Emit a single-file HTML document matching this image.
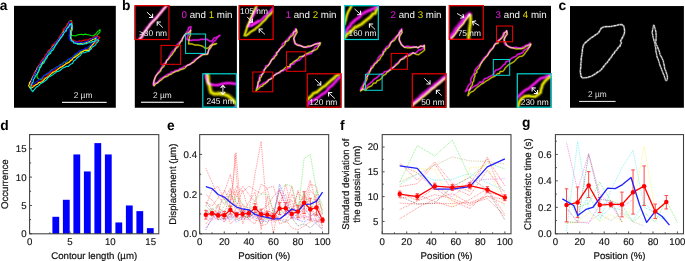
<!DOCTYPE html>
<html lang="en"><head><meta charset="utf-8"><title>Figure</title>
<style>
html,body{margin:0;padding:0;background:#fff}
svg{display:block;font-family:"Liberation Sans",sans-serif}
svg text{text-rendering:geometricPrecision}
.scr{mix-blend-mode:screen}
.iso{isolation:isolate}
</style></head><body>
<svg width="685" height="261" viewBox="0 0 685 261">
<text x="-0.3" y="9.9" font-weight="bold" font-size="13.8" fill="#000">a</text>
<text x="122" y="9.9" font-weight="bold" font-size="13.8" fill="#000">b</text>
<text x="558.6" y="9.9" font-weight="bold" font-size="13.8" fill="#000">c</text>
<text x="0.2" y="129.9" font-weight="bold" font-size="13.8" fill="#000">d</text>
<text x="167.1" y="129.9" font-weight="bold" font-size="13.8" fill="#000">e</text>
<text x="339.9" y="129.9" font-weight="bold" font-size="13.8" fill="#000">f</text>
<text x="522.1" y="127.4" font-weight="bold" font-size="13.8" fill="#000">g</text>
<g id="panel-a">
<rect x="14" y="5.85" width="101.8" height="101.9" fill="#000"/>
<path d="M71.42 20.64 L71.95 22.64 L72.24 24.42 L71.23 26.22 L71.84 28.65 L71.35 30.11 L70.47 32.25 L71.04 35.37 L73.01 35.52 L75.28 35.92 L77.77 34.86 L79.8 34.54 L81.62 34.23 L83 34.87 L85.21 34.12 L87.63 34.72 L88.59 34.76 L91.04 35.58 L93.2 36.04 L95.69 33.97 L97.89 31.4 L98.91 30.57 L100.25 29.77 L99.8 32.3 L98.25 33.78 L97.34 34.81 L96.82 36.23 L95.32 37.48 L95.35 38.56 L95.28 40.02 L94.15 42.49 L92.52 44.09 L91.62 45.13 L90.01 45.85 L89.03 47.91 L87.9 48.86 L86.78 49.69 L84.34 49.75 L82.62 51.03 L80.31 51.85 L79.4 52.96 L77.04 54.05 L75.49 54.54 L74.41 56.22 L72.71 57.29 L71.48 57.75 L69.82 58.68 L67.73 59.95 L66.49 62.1 L63.81 62.35 L62.49 64.03 L60.01 64.84 L58.29 66.53 L56.06 67.42 L53.56 69.22 L51.63 69.99 L50.54 70.83 L48.58 73.05 L46.63 74.29 L44.61 75.18 L43.15 76.84 L42.29 77.6 L42 79.15 L39.48 79.55 L37.99 78.53 L36.98 76.79 L37.15 74.9 L37.38 73.99 L38.71 71.63 L39 69.34 L39.59 67.27 L41.28 65.87 L41.86 64.12 L43.27 62.36 L44.16 60.76 L45 58.97 L46.05 57.02 L47.67 55.49 L48.33 54.25 L49.82 52.38 L50.31 50.85 L52.05 48.97 L53.76 47.12 L55.25 45.3 L56.25 43.34 L57.74 41.73 L58.45 39.94 L60.07 37.79 L61.28 36.06 L61.92 33.63 L62.67 31.94 L64.64 29.58 L65.59 27.82 L66.83 25.27 L68.08 23.68 L68.97 22.02 L69.92 20.87Z" fill="none" stroke="#00e000" stroke-width="1.1" stroke-linejoin="round"/>
<path d="M71.69 21.32 L72.17 23.78 L72.17 26.45 L72.51 29.18 L71.84 30.94 L71.12 33.14 L70.27 35.12 L70.7 37.69 L71.7 39.32 L73.7 40.38 L75.03 41.12 L77.28 41.66 L79.6 40.74 L81.5 41.18 L83.59 40.34 L85.74 39.92 L88.12 40.07 L89.64 38.88 L91.75 38.16 L93.47 37.44 L95.01 36.36 L97.02 35.73 L97.92 36.57 L99.9 37.28 L97.95 39.59 L97.01 41.22 L95.43 42.55 L94.19 43.92 L92.22 45.41 L91.06 46.96 L89.56 48.68 L88.3 49.74 L87.07 49.71 L84.41 50.27 L83.3 51.56 L80.97 52.18 L79.34 53.53 L77.64 55 L76.9 56.4 L75.15 57.55 L73 58.04 L72.52 59.69 L70.54 61.02 L68.87 62.37 L66.66 63.22 L65.36 64.04 L63.84 65.74 L62.34 65.67 L60.15 66.93 L58.99 68.22 L56.4 69.2 L55 70.78 L52.36 71.6 L50.33 72.89 L49.57 73.92 L47.55 75.32 L46.37 76.88 L44.35 78.01 L43.1 79.49 L41.9 80.63 L39.75 81.64 L38.13 82.72 L36.55 84.47 L35.33 85.36 L32.83 85.64 L31.33 86.12 L30.63 85.05 L29.84 82.5 L31.21 81.12 L31.85 79.05 L32.63 77.26 L33.39 75.31 L34.05 72.89 L34.73 71.9 L36.48 69.94 L36.97 67.66 L38.7 65.62 L39.98 63.48 L40.82 62.14 L41.44 60.87 L43.13 58.51 L44.32 57.72 L45.19 55.13 L46.59 53.53 L47.77 52.66 L47.97 50.76 L49.65 49.75 L51.31 48.16 L52.33 45.29 L54.33 43.6 L55.58 42.01 L56.7 41.09 L57.96 39.27 L59.25 37.04 L60.33 35.28 L61.8 33.73 L62.62 31.5 L63.44 28.99 L65.26 27.43 L66.78 25.8 L67.31 23.8 L68.85 22.54 L69 21.43Z" fill="none" stroke="#ff0000" stroke-width="1.1" stroke-linejoin="round"/>
<path d="M71.66 24.45 L70.81 25.58 L71.64 28.24 L71.02 29.81 L70.51 32.11 L70.28 33.66 L69.93 35.89 L70.72 38.49 L71.45 40.04 L72.44 40.97 L73.54 41.93 L75.96 42.77 L77.88 43.89 L80.03 43.61 L81.74 43.12 L83.83 42.74 L86.01 43.1 L87.92 41.38 L89.89 41.1 L91.48 40.31 L93.26 39.29 L94.35 38.98 L96.46 37.66 L95.75 40.82 L94.21 42.13 L92.99 44.02 L91.9 45.23 L90.65 46.58 L90 48.56 L88.67 50.72 L87.27 50.34 L85.22 50.22 L83.8 50.87 L82.11 51.77 L80.26 53.11 L78.46 54.81 L76.3 55.92 L74.75 57.29 L73.08 58.04 L71.95 59.9 L70.72 60.18 L69.02 62.33 L67.21 63.29 L65.58 64.09 L64.02 65.24 L62.13 66.78 L60.11 67.62 L58.95 68.54 L56.31 70.58 L54.52 71.82 L52.23 72.86 L50.47 74.57 L48.48 76.45 L46.53 77.83 L45.02 78.56 L44.31 79.66 L42.68 81.34 L41.89 81.84 L40.99 82.2 L38.54 82.64 L37.87 83.94 L36.11 84.44 L34.53 85.45 L33.77 86.64 L32.15 87.56 L30.36 88.41 L28.57 85.73 L29.36 84.22 L29.4 82.75 L31.17 80.53 L31.88 78.89 L32.81 76.84 L34.26 75.16 L35.01 73.42 L35.52 71.66 L36.84 69.16 L37.93 67.26 L39.3 65.74 L41.01 64.08 L42.43 62.63 L42.73 60.61 L43.75 59.29 L45.26 57.9 L46.48 55.76 L47.32 54.43 L47.97 52.54 L49.44 51.21 L50.82 49.94 L51.7 47.98 L53.33 46.12 L54.92 44.66 L56.01 43.14 L57.11 41.81 L59.06 40.03 L59.83 38.01 L61.28 35.75 L62.42 34.33 L63.48 31.99 L65.4 30.37 L66.42 29.02 L67.71 26.79 L69.28 25.27 L69.92 23.59Z" fill="none" stroke="#f0f000" stroke-width="1.1" stroke-linejoin="round"/>
<path d="M69.89 21.84 L70.31 24.06 L70.86 25.69 L69.75 28.67 L69.5 30.28 L69.73 32.81 L69.07 35.12 L69.35 36.92 L69.83 39.76 L71.09 40.79 L72.6 41.27 L74.78 42.17 L76.41 41.98 L79.26 42.27 L81.4 42.53 L83.68 42.21 L85.64 41.74 L87.73 41.21 L90.21 39.71 L91.22 38.82 L93.8 38.04 L95.13 37.33 L96.68 36.83 L97.59 37.27 L96.84 38.9 L95.95 40.23 L94.38 41.79 L92.46 42.45 L91.24 44.76 L89.87 45.88 L88.64 46.62 L87.72 48.08 L85.46 47.96 L84.31 49.27 L81.6 50.05 L79.97 50.38 L78.24 52.26 L77.2 52.79 L75.34 53.95 L73.84 55.39 L72.57 57.2 L70.76 58.39 L69.13 58.64 L67.58 60.03 L65.34 61.85 L63.62 62.89 L60.92 64.89 L59.29 66.08 L57.97 66.6 L55.43 67.99 L53.51 69.32 L51.52 70.55 L49.98 71.65 L48.07 72.93 L46.46 73.59 L45.8 74.88 L43.47 75.97 L41.43 78.14 L39.64 79.24 L38.86 79.75 L37.46 81.21 L35.78 82.34 L34.09 83.96 L31.36 84.26 L31.51 83.14 L31.62 80.96 L32.49 79.14 L33.1 77.16 L33.95 75.46 L34.83 73.5 L36.24 71.41 L37.09 70.13 L37.87 67.62 L39.61 65.65 L40.24 63.86 L41.75 62.03 L42.37 60.76 L43.88 59.37 L45.06 57.44 L45.71 56.26 L47.42 54.4 L47.85 52.67 L49.26 51.35 L50.63 50.6 L51.56 48.09 L53.73 46.5 L55.03 44.5 L55.66 42.74 L57.53 41.12 L58.28 39.66 L59.66 37.74 L61.47 35.58 L61.81 34.36 L63.93 32.4 L64.73 30.37 L66.47 27.65 L67.54 26.52 L68.71 24.45 L69.15 22.96 L69.91 21.37Z" fill="none" stroke="#1010ff" stroke-width="1.1" stroke-linejoin="round"/>
<path d="M71.23 23.75 L72.26 25.21 L72.4 27.45 L72.15 30.04 L71.19 31.53 L71.54 34.18 L71.06 36 L71.15 38.77 L71.33 41.05 L73.2 41.33 L73.53 43.04 L76.44 43.53 L77.72 44.22 L79.78 44.07 L82.44 44.4 L84.23 43.83 L86.22 43.76 L88.29 42.72 L90.84 42.66 L92.39 41.49 L94.49 41.36 L95.42 40.13 L97.82 39.81 L98.84 40.52 L97.78 41.97 L96.3 43.09 L95.63 44.85 L94.01 46.09 L92.03 47.24 L91.3 48.91 L89.57 50.25 L89 51.57 L86.77 51.79 L85.01 52.58 L83.52 52.74 L81.99 52.93 L80.14 55.8 L79.08 56.29 L76.69 58.27 L75.4 59.98 L74.27 60.44 L73.56 61.43 L72.41 63.45 L70.08 64.56 L68.37 66.45 L66.46 66.31 L64.58 67.52 L62.99 67.84 L61.61 69.12 L60.06 70.53 L57.96 71.57 L56.87 71.5 L55.4 72.88 L53.86 73.85 L52.34 75.12 L50.71 75.96 L48.63 77.03 L47.28 78.68 L46.46 79.9 L44.9 80.92 L43.06 82.24 L42.17 82.78 L40.02 83.91 L39.26 85.35 L37.36 86.62 L36.34 86.97 L35.16 88.73 L34.17 89.77 L32.81 91.55 L31.02 89.57 L30.62 87.99 L30.92 86.29 L31.31 85.2 L32.41 82.71 L33.24 81.78 L33.39 79.45 L34.25 78.62 L35.36 76.4 L36.98 74.04 L37.62 72.48 L39.3 70.02 L39.59 68.68 L40.63 67.14 L41.42 65.73 L42.16 63.87 L44.07 62.91 L44.41 61.36 L45.54 59.77 L47.11 57.58 L47.75 55.51 L49.45 54.07 L50.45 53.53 L51.27 51.27 L53.07 50.07 L54.4 47.61 L55.38 45.65 L56.51 44.17 L57.93 41.99 L58.8 40.77 L60.3 38.7 L61.63 37.17 L63.5 34.32 L64.1 32.63 L66.19 31.08 L66.84 28.51 L68.37 27.44 L69.83 25.24 L71.38 23.39Z" fill="none" stroke="#00e8e8" stroke-width="1.1" stroke-linejoin="round"/>
<rect x="62" y="101.8" width="44.7" height="1.1" fill="#fff"/>
<text x="83" y="98.4" font-size="8.3" fill="#e8e8e8" text-anchor="middle">2 µm</text>
</g>
<g id="panel-b1" class="iso">
<clipPath id="cb0"><rect x="134.8" y="5.85" width="102.1" height="101.9"/></clipPath>
<rect x="134.8" y="5.85" width="102.1" height="101.9" fill="#000"/>
<g clip-path="url(#cb0)">
<defs><path id="gp1" d="M190.66 30.34 L190.52 32.56 L190.42 35.49 L189.73 36.49 L188.93 40.24 L188.52 43.98 L191.74 43.82 L194.84 45.05 L197.32 44.98 L200.96 45.64 L203.58 46.84 L205.05 48.4 L208.52 48 L209.84 45.99 L210.81 45.5 L214.16 44 L216.6 43.6 L214.72 44.47 L212.5 44.95 L210.53 48.12 L208.68 49.59 L208.27 51.91 L207.54 54.33 L205.39 54.4 L202.68 54.82 L200.75 56.21 L199.3 56.87 L196.86 59.04 L194.4 61.41 L194.02 62.15 L191.57 62.97 L189.71 64.63 L187.82 65.03 L186.48 66.25 L184.77 68.38 L182.97 69.02 L180.42 69.8 L178.01 71.07 L176.4 71.33 L173.92 72.37 L172.77 73.04 L171.3 74.21 L168.66 75.04 L167.97 76.08 L164.5 77.29 L161.53 79.79 L159 81.53 L157.78 82.91 L156.13 83.55 L154.06 86.05 L153.82 82.25 L154.1 80 L155.68 76.34 L157.56 73.88 L160.79 70.93 L161.04 69.35 L162.15 67.87 L163.69 66.8 L164.85 64.33 L166.02 63.21 L166.53 60.36 L168.48 59.28 L169.76 57.38 L171.14 55.62 L172.21 54.74 L173.05 52.79 L174.88 51.03 L175.37 48.97 L177.95 46.94 L179.77 43.83 L180.81 41.51 L181.99 40.88 L182.69 38.22 L183.72 36.19 L185.11 34.24 L188.65 32.78 L190.5 30.82Z"/></defs><g fill="none" stroke="#f0ea00" stroke-linejoin="round" stroke-linecap="round"><use href="#gp1" class="scr" stroke-width="2.1" stroke-opacity="0.2"/><use href="#gp1" class="scr" stroke-width="1.47" stroke-opacity="0.31"/><use href="#gp1" class="scr" stroke-width="0.98" stroke-opacity="0.45"/><use href="#gp1" class="scr" stroke-width="0.49" stroke-opacity="0.63"/></g>
<defs><path id="gp2" d="M190.91 26.88 L190.4 30.61 L188.94 32.2 L189.21 34.56 L188.11 35.25 L187.27 38.24 L187 39.53 L190.68 40.52 L193.06 40.03 L197.61 40.05 L198.64 39.99 L200.96 39.29 L203.37 39.41 L206.8 39.19 L210.04 41.29 L212.28 40.89 L214.1 38.03 L216.09 37.51 L219.94 35.38 L217.61 37.27 L215.62 40.1 L212.46 42.82 L212.15 44.02 L210.48 45.81 L209.68 48.3 L208.1 52.04 L207.54 53.68 L205.34 54.02 L201.37 54.32 L200.26 55.98 L198.5 57.74 L196.41 58.62 L194.93 59.75 L193.03 61.52 L191.49 63.58 L189.55 64.39 L187.08 65.4 L185.43 66.23 L183.75 66.81 L182.37 67.99 L179.74 68.83 L178.44 70 L175.42 70.44 L173.58 72.01 L171.37 72.04 L170.45 73.54 L167.95 74.27 L166.24 75.26 L163.63 77.08 L160.55 78.99 L158.3 81.28 L157.68 82.62 L155.52 82.85 L153.13 85.1 L153.26 83.02 L154.91 79.19 L155.6 76.2 L157.86 72.9 L159.16 71.07 L160.36 69.7 L161.44 68.01 L162.74 65.15 L164.12 63.57 L165.88 62.45 L166.54 60.93 L167.82 59.25 L169.32 56.32 L169.79 55.72 L170.6 54.32 L171.91 52.17 L174.18 49.86 L175.65 48.02 L176.79 45.47 L177.82 43.93 L180.57 41.41 L181.84 39.65 L182.23 38.45 L184.44 35.59 L185.56 34.13 L186.51 32.39 L187.94 30.75 L188.56 27.73Z"/></defs><g fill="none" stroke="#ff10f0" stroke-linejoin="round" stroke-linecap="round"><use href="#gp2" class="scr" stroke-width="2.4" stroke-opacity="0.22"/><use href="#gp2" class="scr" stroke-width="1.68" stroke-opacity="0.34"/><use href="#gp2" class="scr" stroke-width="1.12" stroke-opacity="0.5"/><use href="#gp2" class="scr" stroke-width="0.56" stroke-opacity="0.7"/></g>
</g>
<text x="232.5" y="17.8" font-size="9.75" text-anchor="end" fill="#f8f8f8"><tspan fill="#e818e0">0</tspan> and <tspan fill="#e0d800">1</tspan> min</text>
</g>
<g id="panel-b2" class="iso">
<clipPath id="cb1"><rect x="239.1" y="5.85" width="101.8" height="101.9"/></clipPath>
<rect x="239.1" y="5.85" width="101.8" height="101.9" fill="#000"/>
<g clip-path="url(#cb1)">
<defs><path id="gp3" d="M296.33 29.14 L297.24 32.2 L295.21 35.68 L293.63 38.77 L294.99 42.09 L295.39 43.56 L297.19 45.36 L299.89 45.26 L303.52 47.25 L306.23 46.92 L307.94 46.02 L310.94 46.09 L312.94 45.26 L315 44.3 L318.11 43.86 L320.53 42.76 L320 44.89 L318.84 45.92 L317.15 48.99 L314.61 50.26 L311.99 51.24 L310.05 52.03 L307.91 53.08 L305.71 53.85 L303.38 56.16 L299.49 56.75 L298.42 58.71 L296.12 60.2 L293.18 61.96 L292.65 62.84 L290.05 64.36 L289.79 66.42 L286.92 66.8 L285.29 67.66 L283.26 69.55 L279.86 71.79 L277.8 73.26 L276.21 74.17 L274.76 75.03 L273.47 76 L273.01 77.96 L270.41 79.23 L268.67 79.74 L268.03 81.36 L264.4 84.38 L263.28 84.62 L262.82 86.06 L260.47 86.82 L258.51 88.72 L257.23 89.77 L255.91 90.58 L257.42 87.57 L257.73 85.27 L258.03 82.02 L260.01 80.83 L259.82 77.88 L261.36 77.01 L261.74 74.98 L263.97 72.41 L264.48 69.66 L265.11 68.94 L266.71 67.06 L268.04 65.74 L269.94 63.09 L270.71 61.88 L271.9 59.39 L273.99 58.58 L275.27 56.12 L276.93 54.41 L276.77 52.85 L278.62 50.89 L279.41 49.7 L281.21 47.7 L282.09 47.24 L284.22 45.29 L285.04 43.78 L285.46 41.55 L286.48 41.52 L288.7 40.24 L289.68 37.65 L292.37 35.6 L293.13 34.4 L293.76 32.12 L295.76 31.15Z"/></defs><g fill="none" stroke="#f0ea00" stroke-linejoin="round" stroke-linecap="round"><use href="#gp3" class="scr" stroke-width="2.1" stroke-opacity="0.2"/><use href="#gp3" class="scr" stroke-width="1.47" stroke-opacity="0.31"/><use href="#gp3" class="scr" stroke-width="0.98" stroke-opacity="0.45"/><use href="#gp3" class="scr" stroke-width="0.49" stroke-opacity="0.63"/></g>
<defs><path id="gp4" d="M295.3 28.83 L296.2 31.72 L294.17 35.49 L293.96 38.27 L294.21 40.75 L294.65 43.6 L297.33 44.31 L299.44 45.72 L301.8 46.15 L306.15 47.39 L308.41 47.15 L309.6 46.67 L312.8 45.02 L315.78 43.65 L317.08 43.33 L319.34 42.69 L319.33 44.23 L318.06 45.73 L315.33 47.06 L314.05 49.05 L312.62 51.18 L311.32 53.51 L308.4 54.09 L306.01 55 L302.98 56.37 L301.67 57.58 L299.43 60.23 L296.26 61.05 L294.72 62.47 L293.92 63.86 L290.85 64.81 L290.27 67.54 L288.26 67.87 L286.66 69.33 L284.53 69.89 L283.4 70.68 L281.19 70.81 L279.79 72.76 L278.13 73.16 L276.41 73.32 L274.35 75.35 L273.72 75.66 L271.98 77.26 L270.7 78.84 L268.36 80.13 L267.59 80.79 L265.64 82.17 L262.83 83.58 L260.59 85.25 L256.45 88.11 L258.04 84.73 L258.73 81.69 L258.48 80.3 L259.34 78.39 L259.75 75.61 L262.2 74.53 L263.17 71.72 L263.63 70.44 L265.24 68.09 L265.79 65.82 L268.31 65.19 L269.77 63.05 L270.49 61.17 L272.47 59.01 L273.35 57.21 L274.9 55.22 L275.98 55.03 L276.19 52.84 L278.32 51.58 L279.43 49.04 L280.36 48.44 L282.31 45.6 L282.29 43.94 L283.44 43.07 L284.86 42.3 L286.83 39.84 L287.86 38.79 L289.79 36.53 L291.3 34.28 L292.62 33.46 L293.88 30.87 L295.12 30.61Z"/></defs><g fill="none" stroke="#ff10f0" stroke-linejoin="round" stroke-linecap="round"><use href="#gp4" class="scr" stroke-width="2.4" stroke-opacity="0.22"/><use href="#gp4" class="scr" stroke-width="1.68" stroke-opacity="0.34"/><use href="#gp4" class="scr" stroke-width="1.12" stroke-opacity="0.5"/><use href="#gp4" class="scr" stroke-width="0.56" stroke-opacity="0.7"/></g>
</g>
<text x="336.5" y="17.8" font-size="9.75" text-anchor="end" fill="#f8f8f8"><tspan fill="#e818e0">1</tspan> and <tspan fill="#e0d800">2</tspan> min</text>
</g>
<g id="panel-b3" class="iso">
<clipPath id="cb2"><rect x="344.4" y="5.85" width="101.5" height="101.9"/></clipPath>
<rect x="344.4" y="5.85" width="101.5" height="101.9" fill="#000"/>
<g clip-path="url(#cb2)">
<defs><path id="gp5" d="M401.66 30.09 L402.15 32.51 L399.77 36.16 L399.06 40.02 L400.39 42.6 L401.39 44.89 L402.57 45.61 L404.39 47.36 L407.44 47.83 L410.66 47.83 L413.51 47.41 L416.71 46.83 L417.63 48.09 L420.39 46.11 L423.47 46.71 L424.42 45.23 L424.55 48.4 L424.6 50.13 L422.57 51.76 L419.89 53.58 L418.59 54.65 L416.65 54.47 L412.94 52.71 L411.15 54.69 L409.05 55.72 L405.69 56.76 L403.79 58.82 L400.56 59.87 L399.37 61.8 L398.47 63.29 L395.75 65.34 L394.81 66.44 L392.91 67.63 L391.59 69.48 L389.68 70.33 L388.32 71.74 L386.79 72.37 L385.93 74.16 L384.05 75.06 L382.84 75.97 L381.75 78.18 L380.26 79.37 L378.24 80.55 L376.98 80.67 L375.96 83 L373.25 83.28 L371.79 85.75 L368.39 87.26 L366.33 89 L365.99 90.4 L363.04 89.44 L360.53 91.08 L363 88.06 L363.69 85.19 L365.07 83.34 L365.74 81.82 L367.19 78.64 L366.79 77.71 L367.77 75.77 L369.12 73.34 L370.41 70.62 L370.78 68.68 L372.67 67.84 L373.15 66.63 L374.98 63.81 L376.4 63.07 L377.94 60.79 L379.83 59.54 L380.79 57.13 L381.73 56.25 L383.23 54.12 L383.77 52.15 L385.55 50.79 L385.68 49.37 L388.21 47.9 L389.4 46.47 L390.1 44.88 L391.12 42.45 L392.28 41.42 L394.35 40.63 L395.76 38.43 L397.14 36.1 L399 34.29 L399.32 32.71 L400.44 31.63Z"/></defs><g fill="none" stroke="#f0ea00" stroke-linejoin="round" stroke-linecap="round"><use href="#gp5" class="scr" stroke-width="2.1" stroke-opacity="0.2"/><use href="#gp5" class="scr" stroke-width="1.47" stroke-opacity="0.31"/><use href="#gp5" class="scr" stroke-width="0.98" stroke-opacity="0.45"/><use href="#gp5" class="scr" stroke-width="0.49" stroke-opacity="0.63"/></g>
<defs><path id="gp6" d="M401.79 28.81 L400.59 33.3 L399.43 35.28 L399.03 38.82 L400.08 41.55 L401.39 43.88 L402.65 45.85 L404.58 46.89 L407.81 46.17 L411.27 47.18 L412.87 46.59 L416.12 47.17 L418.35 47.38 L420.46 46.32 L422.44 45.71 L424.04 45.54 L423.66 47.26 L423.65 48.35 L420.15 50.06 L419.05 49.78 L416.62 52.3 L414.65 53.3 L412.52 52.94 L410.07 53.73 L408.36 54.68 L405.11 56.59 L402.6 58.21 L400.6 59.67 L399.23 61.32 L396.79 63.53 L395.64 64.25 L394.16 66.56 L393.41 67.26 L391 67.96 L390.27 69.27 L388.27 70.72 L386.25 71.47 L384.35 71.72 L383.21 73.74 L381.73 73.74 L380.16 74.52 L378.1 76.69 L377.25 77.27 L375.52 78.45 L373.44 79.83 L372.54 81.32 L369.3 83.84 L367.22 85.66 L365.89 87.48 L364.07 88.78 L361.33 89.13 L360.4 89.91 L361.41 87.64 L363.4 84.3 L363.81 83.35 L365.28 80.08 L365.57 78.28 L367.05 76.17 L367.16 74 L368.45 72.11 L369.27 70.9 L371.14 69.05 L371.11 66.87 L373.62 64.85 L374.05 63.68 L375.72 62.23 L377.58 60.05 L378.22 57.95 L379.45 56.1 L381.25 54.64 L382.78 53.72 L382.74 51.85 L384.76 49.51 L385.78 47.84 L387.4 46.21 L388.4 46.08 L389.97 43.55 L390.75 42.01 L391.66 41.75 L393.58 39.11 L394.92 37.96 L396.61 36 L398.69 34.03 L398.89 32.87 L400.12 30.38Z"/></defs><g fill="none" stroke="#ff10f0" stroke-linejoin="round" stroke-linecap="round"><use href="#gp6" class="scr" stroke-width="2.4" stroke-opacity="0.22"/><use href="#gp6" class="scr" stroke-width="1.68" stroke-opacity="0.34"/><use href="#gp6" class="scr" stroke-width="1.12" stroke-opacity="0.5"/><use href="#gp6" class="scr" stroke-width="0.56" stroke-opacity="0.7"/></g>
</g>
<text x="441.5" y="17.8" font-size="9.75" text-anchor="end" fill="#f8f8f8"><tspan fill="#e818e0">2</tspan> and <tspan fill="#e0d800">3</tspan> min</text>
</g>
<g id="panel-b4" class="iso">
<clipPath id="cb3"><rect x="449.5" y="5.85" width="101.5" height="101.9"/></clipPath>
<rect x="449.5" y="5.85" width="101.5" height="101.9" fill="#000"/>
<g clip-path="url(#cb3)">
<defs><path id="gp7" d="M506.54 30.93 L507.38 34.37 L505.23 36.75 L504.07 39.94 L505.65 42.7 L506.55 45.02 L507.99 46.4 L510.61 47.71 L512.57 47.81 L515.97 48.91 L519.41 48.81 L521.89 48.72 L524.57 47.69 L525.84 46.47 L528.68 45.33 L531.1 44.04 L530.3 46.14 L529.12 47.28 L527.38 50.3 L525.66 52.25 L523.94 54.88 L521.87 56.29 L519.78 56.43 L517.41 58.09 L515.45 60.15 L513.78 61.91 L510.67 63.65 L508.43 64.87 L506.76 66.47 L504.98 68.29 L504.7 69.3 L502.75 71.52 L500.09 71.43 L499.58 73.58 L497.68 73.51 L495.69 75.53 L494.77 76.36 L492.12 77.37 L490.76 78.16 L488.79 79.54 L487.88 80.24 L485.69 81.14 L484.65 82.24 L482.72 83.58 L481.11 84.13 L479.26 85.91 L476.74 87.56 L474.38 90.18 L473.51 91.08 L471.13 91.98 L470.03 92.92 L467.96 95.75 L468.84 91.89 L469.75 89.52 L470.99 86.57 L472.3 85.07 L472.64 82.27 L473.65 81.17 L473.96 78.37 L474.97 76 L474.78 74.21 L476.93 72.51 L476.78 70.38 L478.84 68.2 L479.62 66.81 L480.34 64.81 L481.53 63.01 L482.49 61.29 L483.78 60.04 L485.75 57.31 L487.21 55.99 L487.97 54.88 L488.95 52.83 L490.3 50.96 L492.15 49.27 L493.29 47.83 L493.71 46.48 L494.55 44.69 L496.29 43.76 L498.26 43.23 L498.22 41.2 L500.34 39.51 L502.63 37.44 L503.97 34.69 L504.16 33.27 L506.45 31.62Z"/></defs><g fill="none" stroke="#f0ea00" stroke-linejoin="round" stroke-linecap="round"><use href="#gp7" class="scr" stroke-width="2.1" stroke-opacity="0.2"/><use href="#gp7" class="scr" stroke-width="1.47" stroke-opacity="0.31"/><use href="#gp7" class="scr" stroke-width="0.98" stroke-opacity="0.45"/><use href="#gp7" class="scr" stroke-width="0.49" stroke-opacity="0.63"/></g>
<defs><path id="gp8" d="M506.94 30.82 L507.09 32.73 L505.24 36.54 L504.05 39.3 L504.24 42.67 L505.48 44.88 L506.99 45.38 L509.82 46.93 L512.72 48 L515.69 47.19 L518.77 47.98 L521.04 48.03 L524.01 46.54 L525.99 45.25 L528.21 44.69 L530.12 43.03 L529.86 46.08 L528.94 47.27 L526.51 48.87 L523.52 50.79 L522.97 52.59 L520.22 53.65 L517.41 54.61 L516.01 56.33 L513.25 57.35 L510.78 58.86 L509.12 60.82 L505.94 61.76 L505.13 64.06 L503.59 64.76 L501.57 67.18 L500.04 68.62 L497.75 69.76 L495.93 70.02 L494.23 72.18 L493.58 73.99 L492.13 75.22 L490.1 76.54 L488.8 76.77 L487.52 78 L484.75 78.68 L483.55 79.99 L482.66 82.19 L479.98 81.99 L478.87 83.1 L477.31 85.07 L474.43 86.16 L473.1 86.97 L470.66 88.69 L469.77 89.74 L467.53 89.87 L465.49 91.34 L467.31 87.76 L468.49 85.31 L470.26 83.54 L470.97 81.94 L470.76 79.65 L471.55 77.54 L473.25 75.02 L474.38 72.72 L474.79 71.41 L475.3 69.44 L476.96 67.77 L478.63 65.61 L479.52 64.93 L480.56 63.2 L482.01 61.17 L483.31 59.07 L484.88 56.92 L486.5 55.92 L487.68 54.36 L488.68 52.69 L489.5 51.6 L490.38 49.91 L492.75 47.75 L493.82 46.41 L494.81 44.44 L495.63 43.12 L496.8 42.69 L498.06 40.48 L500.18 39.02 L502.27 36.43 L502.93 34.42 L503.68 32.73 L504.95 32.18Z"/></defs><g fill="none" stroke="#ff10f0" stroke-linejoin="round" stroke-linecap="round"><use href="#gp8" class="scr" stroke-width="2.4" stroke-opacity="0.22"/><use href="#gp8" class="scr" stroke-width="1.68" stroke-opacity="0.34"/><use href="#gp8" class="scr" stroke-width="1.12" stroke-opacity="0.5"/><use href="#gp8" class="scr" stroke-width="0.56" stroke-opacity="0.7"/></g>
</g>
<text x="546.6" y="17.8" font-size="9.75" text-anchor="end" fill="#f8f8f8"><tspan fill="#e818e0">3</tspan> and <tspan fill="#e0d800">4</tspan> min</text>
</g>
<rect x="185.6" y="34" width="20" height="19.4" fill="none" stroke="#00d8d8" stroke-width="1.0"/>
<rect x="161" y="45.4" width="19.6" height="18.9" fill="none" stroke="#f00000" stroke-width="1.0"/>
<rect x="286.5" y="51.8" width="19.2" height="19.5" fill="none" stroke="#f00000" stroke-width="1.0"/>
<rect x="252.8" y="72" width="20" height="19.8" fill="none" stroke="#f00000" stroke-width="1.0"/>
<rect x="391.2" y="53.4" width="16.3" height="15.9" fill="none" stroke="#f00000" stroke-width="1.0"/>
<rect x="365.5" y="74.2" width="16.6" height="16.1" fill="none" stroke="#00d8d8" stroke-width="1.0"/>
<rect x="496.5" y="26" width="16.1" height="15.8" fill="none" stroke="#f00000" stroke-width="1.0"/>
<rect x="493.3" y="59.5" width="16.4" height="15.8" fill="none" stroke="#00d8d8" stroke-width="1.0"/>
<rect x="141" y="101.7" width="42.7" height="1.1" fill="#fff"/>
<text x="162.3" y="98.4" font-size="8.3" fill="#e8e8e8" text-anchor="middle">2 µm</text>
<g id="inset1a" class="iso">
<clipPath id="ci1a"><rect x="134.6" y="5.1" width="34.9" height="35"/></clipPath>
<rect x="134.6" y="5.1" width="34.9" height="35" fill="#000"/>
<g clip-path="url(#ci1a)">
<defs><path id="gp9" d="M137.42 41.67 L139.43 39.53 L141 37.77 L142.58 35.64 L143.8 32.96 L145.67 30.87 L147.26 28.35 L148.74 26.41 L150.26 24.22 L152.6 21.92 L154.16 20.32 L156.55 18.01 L158.12 15.79 L159.96 13.46 L161.9 11.5 L163.53 9.27 L165.26 7.28 L166.84 5.16 L168.5 3.5"/></defs><g fill="none" stroke="#f0ea00" stroke-linejoin="round" stroke-linecap="round"><use href="#gp9" class="scr" stroke-width="3.61" stroke-opacity="0.17"/><use href="#gp9" class="scr" stroke-width="2.53" stroke-opacity="0.26"/><use href="#gp9" class="scr" stroke-width="1.68" stroke-opacity="0.38"/><use href="#gp9" class="scr" stroke-width="0.84" stroke-opacity="0.52"/></g>
<defs><path id="gp10" d="M138.83 41.22 L139.73 38.89 L141.47 37.32 L142.78 34.87 L144.15 32.79 L145.54 30.33 L147.07 28.21 L148.81 26.28 L150.52 23.82 L152.22 21.88 L153.97 19.96 L156.12 17.88 L158.01 15.93 L160.01 13.53 L161.6 11.16 L163.38 9.12 L165.21 7.45 L166.69 4.94 L168 3"/></defs><g fill="none" stroke="#ff10f0" stroke-linejoin="round" stroke-linecap="round"><use href="#gp10" class="scr" stroke-width="4.94" stroke-opacity="0.2"/><use href="#gp10" class="scr" stroke-width="3.46" stroke-opacity="0.32"/><use href="#gp10" class="scr" stroke-width="2.3" stroke-opacity="0.47"/><use href="#gp10" class="scr" stroke-width="1.15" stroke-opacity="0.65"/></g>
<path d="M146.9 12.1 L152.7 17.4" stroke="#f4f4f4" stroke-width="0.95" fill="none"/><path d="M149 17.57 L152.7 17.4 L152.53 13.7" stroke="#fff" stroke-width="1.05" fill="none" stroke-linejoin="miter" stroke-linecap="butt"/>
<path d="M162.8 27.6 L157.2 22" stroke="#f4f4f4" stroke-width="0.95" fill="none"/><path d="M160.9 22 L157.2 22 L157.2 25.7" stroke="#fff" stroke-width="1.05" fill="none" stroke-linejoin="miter" stroke-linecap="butt"/>
<text x="153" y="36.4" font-size="8.4" text-anchor="middle" fill="#f4f4f4">&gt;30 nm</text>
</g>
<rect x="135.2" y="5.7" width="33.7" height="33.8" fill="none" stroke="#f00000" stroke-width="1.2"/>
</g>
<g id="inset1b" class="iso">
<clipPath id="ci1b"><rect x="202.2" y="73.2" width="34.8" height="34.6"/></clipPath>
<rect x="202.2" y="73.2" width="34.8" height="34.6" fill="#000"/>
<g clip-path="url(#ci1b)">
<defs><path id="gp11" d="M207.32 72.03 L207.66 75.07 L208.09 77.7 L208.06 81.24 L208.63 83.81 L209.65 86.48 L210.04 88.98 L211.1 92.26 L214.09 93.86 L216.52 93.87 L219.12 93.49 L221.68 94.26 L223.86 94.27 L228.26 95.98 L231.65 98.77 L234.65 101.79 L236.18 103.46 L238 105"/></defs><g fill="none" stroke="#f0ea00" stroke-linejoin="round" stroke-linecap="round"><use href="#gp11" class="scr" stroke-width="6.27" stroke-opacity="0.2"/><use href="#gp11" class="scr" stroke-width="4.39" stroke-opacity="0.32"/><use href="#gp11" class="scr" stroke-width="2.92" stroke-opacity="0.47"/><use href="#gp11" class="scr" stroke-width="1.46" stroke-opacity="0.65"/></g>
<defs><path id="gp12" d="M205.79 71.68 L206.17 74.72 L206.15 77.92 L207.38 80.49 L207.81 82.28 L210.53 84.42 L213.74 84.88 L217.77 85.14 L222.26 83.85 L226.24 83.15 L229.85 83.1 L234.19 83.68 L238 84.2"/></defs><g fill="none" stroke="#ff10f0" stroke-linejoin="round" stroke-linecap="round"><use href="#gp12" class="scr" stroke-width="4.56" stroke-opacity="0.2"/><use href="#gp12" class="scr" stroke-width="3.19" stroke-opacity="0.32"/><use href="#gp12" class="scr" stroke-width="2.13" stroke-opacity="0.47"/><use href="#gp12" class="scr" stroke-width="1.06" stroke-opacity="0.65"/></g>
<defs><path id="gp13" d="M233.1 108.69 L235.74 106.85 L238 104.5"/></defs><g fill="none" stroke="#ff10f0" stroke-linejoin="round" stroke-linecap="round"><use href="#gp13" class="scr" stroke-width="3.8" stroke-opacity="0.2"/><use href="#gp13" class="scr" stroke-width="2.66" stroke-opacity="0.32"/><use href="#gp13" class="scr" stroke-width="1.77" stroke-opacity="0.47"/><use href="#gp13" class="scr" stroke-width="0.89" stroke-opacity="0.65"/></g>
<path d="M222.9 85.6 L222.9 94.2" stroke="#f4f4f4" stroke-width="0.95" fill="none"/><path d="M220.57 91.87 L222.9 94.2 L225.23 91.87 M225.23 87.93 L222.9 85.6 L220.57 87.93" stroke="#fff" stroke-width="1.05" fill="none" stroke-linejoin="miter" stroke-linecap="butt"/>
<text x="220.4" y="103.8" font-size="8.4" text-anchor="middle" fill="#f4f4f4">245 nm</text>
</g>
<rect x="202.8" y="73.8" width="33.6" height="33.4" fill="none" stroke="#00d8d8" stroke-width="1.2"/>
</g>
<g id="inset2a" class="iso">
<clipPath id="ci2a"><rect x="238.7" y="5.1" width="35" height="35"/></clipPath>
<rect x="238.7" y="5.1" width="35" height="35" fill="#000"/>
<g clip-path="url(#ci2a)">
<defs><path id="gp14" d="M257.18 5.19 L255.79 7.36 L254.3 10.1 L253.28 12.91 L251.92 15.66 L250.66 18.43 L249.74 20.95 L248.52 23.86 L247.22 26.53 L246.68 28.86 L245.78 31.61 L244.61 35.3 L246.16 35.38 L248.58 33.77 L250.16 32.22 L252.68 30.67 L255.07 29.25 L256.52 27.69 L258.52 26.26 L260.55 24.31 L262.09 22.72 L265.18 19.89 L267.72 16.52 L271.06 13.48 L272.8 11.55 L274.5 10"/></defs><g fill="none" stroke="#f0ea00" stroke-linejoin="round" stroke-linecap="round"><use href="#gp14" class="scr" stroke-width="3.8" stroke-opacity="0.2"/><use href="#gp14" class="scr" stroke-width="2.66" stroke-opacity="0.32"/><use href="#gp14" class="scr" stroke-width="1.77" stroke-opacity="0.47"/><use href="#gp14" class="scr" stroke-width="0.89" stroke-opacity="0.65"/></g>
<defs><path id="gp15" d="M256.69 8.79 L255.69 10.99 L254.42 13.42 L253.03 15.75 L251.92 17.96 L250.94 19.95 L250.15 22.6 L248.37 26.23 L251.58 25.87 L255.35 23.54 L258.79 21.53 L261.72 19.67 L264.29 16.77 L266.04 15.59 L267.61 13.85 L270.58 10.92 L272.28 8.99 L274 7.5"/></defs><g fill="none" stroke="#ff10f0" stroke-linejoin="round" stroke-linecap="round"><use href="#gp15" class="scr" stroke-width="4.18" stroke-opacity="0.2"/><use href="#gp15" class="scr" stroke-width="2.92" stroke-opacity="0.32"/><use href="#gp15" class="scr" stroke-width="1.95" stroke-opacity="0.47"/><use href="#gp15" class="scr" stroke-width="0.97" stroke-opacity="0.65"/></g>
<defs><path id="gp16" d="M251.43 24.65 L254.8 22.99 L258 21"/></defs><g fill="none" stroke="#ff10f0" stroke-linejoin="round" stroke-linecap="round"><use href="#gp16" class="scr" stroke-width="4.18" stroke-opacity="0.18"/><use href="#gp16" class="scr" stroke-width="2.92" stroke-opacity="0.27"/><use href="#gp16" class="scr" stroke-width="1.95" stroke-opacity="0.4"/><use href="#gp16" class="scr" stroke-width="0.97" stroke-opacity="0.56"/></g>
<path d="M247.1 16.9 L252.4 22.2" stroke="#f4f4f4" stroke-width="0.95" fill="none"/><path d="M248.7 22.2 L252.4 22.2 L252.4 18.5" stroke="#fff" stroke-width="1.05" fill="none" stroke-linejoin="miter" stroke-linecap="butt"/>
<path d="M264.9 34.4 L259.1 29.1" stroke="#f4f4f4" stroke-width="0.95" fill="none"/><path d="M262.8 28.93 L259.1 29.1 L259.27 32.8" stroke="#fff" stroke-width="1.05" fill="none" stroke-linejoin="miter" stroke-linecap="butt"/>
<text x="254" y="13.8" font-size="8.4" text-anchor="middle" fill="#f4f4f4">105 nm</text>
</g>
<rect x="239.3" y="5.7" width="33.8" height="33.8" fill="none" stroke="#f00000" stroke-width="1.2"/>
</g>
<g id="inset2b" class="iso">
<clipPath id="ci2b"><rect x="306.7" y="73.2" width="34.8" height="34.6"/></clipPath>
<rect x="306.7" y="73.2" width="34.8" height="34.6" fill="#000"/>
<g clip-path="url(#ci2b)">
<defs><path id="gp17" d="M340.28 72.87 L337.3 75.36 L335.47 76.4 L334.4 77.77 L331.01 80.47 L327.96 83.2 L324.85 86.06 L322.27 87.59 L319.92 89.51 L316.93 92.12 L313.5 93.29 L311.31 95.99 L309.35 97.6 L306.5 100.5"/></defs><g fill="none" stroke="#f0ea00" stroke-linejoin="round" stroke-linecap="round"><use href="#gp17" class="scr" stroke-width="4.94" stroke-opacity="0.2"/><use href="#gp17" class="scr" stroke-width="3.46" stroke-opacity="0.32"/><use href="#gp17" class="scr" stroke-width="2.3" stroke-opacity="0.47"/><use href="#gp17" class="scr" stroke-width="1.15" stroke-opacity="0.65"/></g>
<defs><path id="gp18" d="M342.47 74.4 L339.71 77.49 L337.01 79.8 L335.12 82.16 L332.04 85.49 L328.63 88.1 L327.16 90.56 L325.28 92.43 L321.39 94.69 L318.41 97.34 L315.07 99.22 L311.51 101.1 L309.48 102.28 L308.14 104.18 L305.5 106"/></defs><g fill="none" stroke="#ff10f0" stroke-linejoin="round" stroke-linecap="round"><use href="#gp18" class="scr" stroke-width="4.94" stroke-opacity="0.2"/><use href="#gp18" class="scr" stroke-width="3.46" stroke-opacity="0.32"/><use href="#gp18" class="scr" stroke-width="2.3" stroke-opacity="0.47"/><use href="#gp18" class="scr" stroke-width="1.15" stroke-opacity="0.65"/></g>
<path d="M315 79.1 L320.8 84.9" stroke="#f4f4f4" stroke-width="0.95" fill="none"/><path d="M317.1 84.9 L320.8 84.9 L320.8 81.2" stroke="#fff" stroke-width="1.05" fill="none" stroke-linejoin="miter" stroke-linecap="butt"/>
<path d="M334.8 98.5 L328.5 92.7" stroke="#f4f4f4" stroke-width="0.95" fill="none"/><path d="M332.2 92.55 L328.5 92.7 L328.65 96.4" stroke="#fff" stroke-width="1.05" fill="none" stroke-linejoin="miter" stroke-linecap="butt"/>
<text x="323.3" y="105.3" font-size="8.4" text-anchor="middle" fill="#f4f4f4">120 nm</text>
</g>
<rect x="307.3" y="73.8" width="33.6" height="33.4" fill="none" stroke="#f00000" stroke-width="1.2"/>
</g>
<g id="inset3a" class="iso">
<clipPath id="ci3a"><rect x="344" y="5.1" width="34.9" height="35"/></clipPath>
<rect x="344" y="5.1" width="34.9" height="35" fill="#000"/>
<g clip-path="url(#ci3a)">
<defs><path id="gp19" d="M344.66 23.94 L345.16 21.51 L345.85 19.76 L346.42 16.98 L347.02 14.86 L348.2 11.76 L350.4 8.04 L352 4.5"/></defs><g fill="none" stroke="#f0ea00" stroke-linejoin="round" stroke-linecap="round"><use href="#gp19" class="scr" stroke-width="4.37" stroke-opacity="0.2"/><use href="#gp19" class="scr" stroke-width="3.06" stroke-opacity="0.32"/><use href="#gp19" class="scr" stroke-width="2.04" stroke-opacity="0.47"/><use href="#gp19" class="scr" stroke-width="1.02" stroke-opacity="0.65"/></g>
<defs><path id="gp20" d="M343.46 34.65 L346.14 31.47 L347.21 29.62 L348.35 27.61 L350.2 25.93 L351.28 23.64 L352.97 22.35 L355.15 20.03 L358.69 17.77 L360.27 16.09 L361.73 14.21 L364.02 13 L365.75 11.89 L367.62 11.02 L369.95 10.27 L373.82 8.41 L376.4 7.03 L379 5.5"/></defs><g fill="none" stroke="#ff10f0" stroke-linejoin="round" stroke-linecap="round"><use href="#gp20" class="scr" stroke-width="5.32" stroke-opacity="0.2"/><use href="#gp20" class="scr" stroke-width="3.72" stroke-opacity="0.32"/><use href="#gp20" class="scr" stroke-width="2.48" stroke-opacity="0.47"/><use href="#gp20" class="scr" stroke-width="1.24" stroke-opacity="0.65"/></g>
<defs><path id="gp21" d="M342.97 39.69 L346 35.87 L347.11 34.2 L349.33 32.77 L351.78 30.62 L353.57 28.79 L355.12 27.23 L357.19 26.49 L359.37 25.28 L361.69 24.02 L365.4 20.89 L369.41 17.82 L370.37 17 L372.81 14.11 L375.28 13.19 L376.14 10.61 L377.86 8.88 L380 7.5"/></defs><g fill="none" stroke="#f0ea00" stroke-linejoin="round" stroke-linecap="round"><use href="#gp21" class="scr" stroke-width="5.32" stroke-opacity="0.2"/><use href="#gp21" class="scr" stroke-width="3.72" stroke-opacity="0.32"/><use href="#gp21" class="scr" stroke-width="2.48" stroke-opacity="0.47"/><use href="#gp21" class="scr" stroke-width="1.24" stroke-opacity="0.65"/></g>
<path d="M354.5 8.9 L360.7 14.5" stroke="#f4f4f4" stroke-width="0.95" fill="none"/><path d="M357 14.69 L360.7 14.5 L360.51 10.8" stroke="#fff" stroke-width="1.05" fill="none" stroke-linejoin="miter" stroke-linecap="butt"/>
<path d="M375.2 29.6 L369.4 24" stroke="#f4f4f4" stroke-width="0.95" fill="none"/><path d="M373.1 23.94 L369.4 24 L369.46 27.7" stroke="#fff" stroke-width="1.05" fill="none" stroke-linejoin="miter" stroke-linecap="butt"/>
<text x="362.5" y="36.4" font-size="8.4" text-anchor="middle" fill="#f4f4f4">160 nm</text>
</g>
<rect x="344.6" y="5.7" width="33.7" height="33.8" fill="none" stroke="#00d8d8" stroke-width="1.2"/>
</g>
<g id="inset3b" class="iso">
<clipPath id="ci3b"><rect x="411.7" y="73.2" width="34.8" height="34.6"/></clipPath>
<rect x="411.7" y="73.2" width="34.8" height="34.6" fill="#000"/>
<g clip-path="url(#ci3b)">
<defs><path id="gp22" d="M447.36 76.51 L445.86 78.06 L443.81 79.14 L441.79 80.79 L440.14 82.38 L438.02 84.03 L435.88 85.76 L434.2 87.47 L431.71 88.87 L429.79 90.87 L428.19 92.48 L426.2 94.1 L424.27 95.78 L421.85 97.51 L419.99 99.15 L418.04 100.66 L415.92 102.36 L413.89 103.87 L412.19 105.98 L410 107.6"/></defs><g fill="none" stroke="#f0ea00" stroke-linejoin="round" stroke-linecap="round"><use href="#gp22" class="scr" stroke-width="4.18" stroke-opacity="0.19"/><use href="#gp22" class="scr" stroke-width="2.92" stroke-opacity="0.29"/><use href="#gp22" class="scr" stroke-width="1.95" stroke-opacity="0.42"/><use href="#gp22" class="scr" stroke-width="0.97" stroke-opacity="0.59"/></g>
<defs><path id="gp23" d="M446.76 75.32 L445.34 76.91 L443.36 77.95 L441.64 79.85 L439.38 81.51 L437.44 83.17 L435.27 84.43 L433.74 86.11 L431.36 87.98 L429.58 89.24 L427.53 91.2 L425.3 92.84 L423.27 94.3 L421.25 95.92 L419.79 97.74 L417.79 99.46 L415.56 101.42 L413.61 102.67 L411.55 104.68 L409.5 106.4"/></defs><g fill="none" stroke="#ff10f0" stroke-linejoin="round" stroke-linecap="round"><use href="#gp23" class="scr" stroke-width="6.27" stroke-opacity="0.2"/><use href="#gp23" class="scr" stroke-width="4.39" stroke-opacity="0.32"/><use href="#gp23" class="scr" stroke-width="2.92" stroke-opacity="0.47"/><use href="#gp23" class="scr" stroke-width="1.46" stroke-opacity="0.65"/></g>
<path d="M424.3 78.4 L430.1 83.9" stroke="#f4f4f4" stroke-width="0.95" fill="none"/><path d="M426.4 84 L430.1 83.9 L430 80.2" stroke="#fff" stroke-width="1.05" fill="none" stroke-linejoin="miter" stroke-linecap="butt"/>
<path d="M441.7 95.6 L436.4 90.3" stroke="#f4f4f4" stroke-width="0.95" fill="none"/><path d="M440.1 90.3 L436.4 90.3 L436.4 94" stroke="#fff" stroke-width="1.05" fill="none" stroke-linejoin="miter" stroke-linecap="butt"/>
<text x="432.8" y="104.5" font-size="8.4" text-anchor="middle" fill="#f4f4f4">50 nm</text>
</g>
<rect x="412.3" y="73.8" width="33.6" height="33.4" fill="none" stroke="#f00000" stroke-width="1.2"/>
</g>
<g id="inset4a" class="iso">
<clipPath id="ci4a"><rect x="448.8" y="5.1" width="35.1" height="34.8"/></clipPath>
<rect x="448.8" y="5.1" width="35.1" height="34.8" fill="#000"/>
<g clip-path="url(#ci4a)">
<defs><path id="gp24" d="M470.23 15.76 L470.52 18.83 L470.44 22.76 L469.79 27.09 L469.38 31.25 L468.67 34.92 L468.7 37.89 L468.4 41"/></defs><g fill="none" stroke="#f0ea00" stroke-linejoin="round" stroke-linecap="round"><use href="#gp24" class="scr" stroke-width="5.51" stroke-opacity="0.2"/><use href="#gp24" class="scr" stroke-width="3.85" stroke-opacity="0.32"/><use href="#gp24" class="scr" stroke-width="2.57" stroke-opacity="0.47"/><use href="#gp24" class="scr" stroke-width="1.28" stroke-opacity="0.65"/></g>
<defs><path id="gp25" d="M451.42 38.49 L453.95 35.47 L455.45 33.59 L456.86 31.58 L458.21 29.38 L459.9 27.29 L461.65 25.44 L463.17 23.87 L465.45 20.24 L467.98 16.9 L469.4 14.6"/></defs><g fill="none" stroke="#f0ea00" stroke-linejoin="round" stroke-linecap="round"><use href="#gp25" class="scr" stroke-width="3.04" stroke-opacity="0.2"/><use href="#gp25" class="scr" stroke-width="2.13" stroke-opacity="0.32"/><use href="#gp25" class="scr" stroke-width="1.42" stroke-opacity="0.47"/><use href="#gp25" class="scr" stroke-width="0.71" stroke-opacity="0.65"/></g>
<defs><path id="gp26" d="M449.51 38.18 L452.68 34.47 L454.06 32.72 L455.5 30.37 L456.62 28.53 L458.55 26.45 L459.9 24.49 L461.61 22.87 L462.84 21 L464.14 18.99 L467.23 15.79 L469.4 14.2"/></defs><g fill="none" stroke="#ff10f0" stroke-linejoin="round" stroke-linecap="round"><use href="#gp26" class="scr" stroke-width="6.84" stroke-opacity="0.2"/><use href="#gp26" class="scr" stroke-width="4.78" stroke-opacity="0.32"/><use href="#gp26" class="scr" stroke-width="3.19" stroke-opacity="0.47"/><use href="#gp26" class="scr" stroke-width="1.59" stroke-opacity="0.65"/></g>
<path d="M457 13.4 L463.8 17.4" stroke="#f4f4f4" stroke-width="0.95" fill="none"/><path d="M460.22 18.33 L463.8 17.4 L462.87 13.82" stroke="#fff" stroke-width="1.05" fill="none" stroke-linejoin="miter" stroke-linecap="butt"/>
<path d="M479.2 25.5 L472.5 21.7" stroke="#f4f4f4" stroke-width="0.95" fill="none"/><path d="M476.07 20.71 L472.5 21.7 L473.49 25.27" stroke="#fff" stroke-width="1.05" fill="none" stroke-linejoin="miter" stroke-linecap="butt"/>
<text x="469.3" y="36.4" font-size="8.4" text-anchor="middle" fill="#f4f4f4">75 nm</text>
</g>
<rect x="449.4" y="5.7" width="33.9" height="33.6" fill="none" stroke="#f00000" stroke-width="1.2"/>
</g>
<g id="inset4b" class="iso">
<clipPath id="ci4b"><rect x="516.7" y="73.2" width="34.8" height="34.6"/></clipPath>
<rect x="516.7" y="73.2" width="34.8" height="34.6" fill="#000"/>
<g clip-path="url(#ci4b)">
<defs><path id="gp27" d="M551.75 75.63 L549.87 76.96 L547.19 79 L544.78 81.47 L542.41 84.8 L541.9 86.96 L541.04 89.43 L540.59 92.36 L538.39 94.39 L535.29 96.56 L531.36 96.34 L528.7 95.87 L524.77 96.44 L521.21 98.88 L519.38 101.68 L518.43 105.07 L517.5 108.5"/></defs><g fill="none" stroke="#f0ea00" stroke-linejoin="round" stroke-linecap="round"><use href="#gp27" class="scr" stroke-width="4.94" stroke-opacity="0.2"/><use href="#gp27" class="scr" stroke-width="3.46" stroke-opacity="0.32"/><use href="#gp27" class="scr" stroke-width="2.3" stroke-opacity="0.47"/><use href="#gp27" class="scr" stroke-width="1.15" stroke-opacity="0.65"/></g>
<defs><path id="gp28" d="M552.14 74.23 L549.12 75.21 L544.91 77.2 L540.73 78.32 L537.81 80.61 L534.96 83.21 L531.89 85.76 L529.15 88.26 L526.16 89.66 L523.36 91.73 L520.91 93.99 L518.94 95.93 L515.5 99"/></defs><g fill="none" stroke="#ff10f0" stroke-linejoin="round" stroke-linecap="round"><use href="#gp28" class="scr" stroke-width="4.75" stroke-opacity="0.2"/><use href="#gp28" class="scr" stroke-width="3.32" stroke-opacity="0.32"/><use href="#gp28" class="scr" stroke-width="2.22" stroke-opacity="0.47"/><use href="#gp28" class="scr" stroke-width="1.11" stroke-opacity="0.65"/></g>
<path d="M532.2 87.9 L537.5 93.6" stroke="#f4f4f4" stroke-width="0.95" fill="none"/><path d="M533.8 93.47 L537.5 93.6 L537.63 89.9 M535.9 88.03 L532.2 87.9 L532.07 91.6" stroke="#fff" stroke-width="1.05" fill="none" stroke-linejoin="miter" stroke-linecap="butt"/>
<text x="534.7" y="104.8" font-size="8.4" text-anchor="middle" fill="#f4f4f4">230 nm</text>
</g>
<rect x="517.3" y="73.8" width="33.6" height="33.4" fill="none" stroke="#00d8d8" stroke-width="1.2"/>
</g>
<g id="panel-c">
<rect x="570" y="6.05" width="113.9" height="101.7" fill="#000"/>
<g>
<path d="M621.36 24.41 L623.55 25.69 L624.22 27.81 L624.47 29.78 L624.62 31.42 L624.28 33.82 L623.22 36.17 L621.76 38.85 L620.6 40.76 L621.42 43.15 L620.45 44.52 L619.93 46.23 L618.66 47.06 L617.64 48.42 L616.63 50.07 L615.13 51.25 L614.17 53.24 L612.57 54.72 L611.58 56.68 L609.86 58.75 L608.71 60.4 L607.27 62.36 L605.37 64.27 L603.92 66.15 L602.42 68.12 L600.93 69.94 L599.35 71.19 L597.4 72.24 L595.96 73.52 L594.39 74.4 L592.5 75.61 L591.05 76.3 L589.25 76.7 L588.11 77.37 L585.25 77.75 L582.38 77.95 L580.97 76.14 L580.63 73.61 L580.35 72.39 L580.31 70.35 L580.47 69.01 L580.78 67.29 L580.8 65.29 L580.89 62.94 L581.26 61.22 L581.17 59.11 L581.37 57.26 L581.8 55.24 L582.08 53.03 L582.33 51.54 L582.42 49.41 L582.74 47.89 L583.04 46.27 L583.41 45.18 L584.37 43.86 L585.45 42.45 L586.91 41.5 L587.74 40.58 L589.7 39.01 L591.58 37.55 L592.91 36.71 L594.38 35.71 L595.93 34.47 L597.31 33.84 L598.62 32.57 L599.6 31.04 L600.33 29.73 L601.31 28.06 L603.82 26.94 L605.5 26.71 L607.31 26.52 L608.97 26.54 L611.12 26.46 L612.87 26.06 L615.4 25.58 L616.7 25.41 L618.43 24.75 L620.21 24.64Z" fill="none" stroke="#707070" stroke-width="2.375" stroke-opacity="0.45" stroke-linejoin="round"/>
<path d="M621.36 24.41 L623.55 25.69 L624.22 27.81 L624.47 29.78 L624.62 31.42 L624.28 33.82 L623.22 36.17 L621.76 38.85 L620.6 40.76 L621.42 43.15 L620.45 44.52 L619.93 46.23 L618.66 47.06 L617.64 48.42 L616.63 50.07 L615.13 51.25 L614.17 53.24 L612.57 54.72 L611.58 56.68 L609.86 58.75 L608.71 60.4 L607.27 62.36 L605.37 64.27 L603.92 66.15 L602.42 68.12 L600.93 69.94 L599.35 71.19 L597.4 72.24 L595.96 73.52 L594.39 74.4 L592.5 75.61 L591.05 76.3 L589.25 76.7 L588.11 77.37 L585.25 77.75 L582.38 77.95 L580.97 76.14 L580.63 73.61 L580.35 72.39 L580.31 70.35 L580.47 69.01 L580.78 67.29 L580.8 65.29 L580.89 62.94 L581.26 61.22 L581.17 59.11 L581.37 57.26 L581.8 55.24 L582.08 53.03 L582.33 51.54 L582.42 49.41 L582.74 47.89 L583.04 46.27 L583.41 45.18 L584.37 43.86 L585.45 42.45 L586.91 41.5 L587.74 40.58 L589.7 39.01 L591.58 37.55 L592.91 36.71 L594.38 35.71 L595.93 34.47 L597.31 33.84 L598.62 32.57 L599.6 31.04 L600.33 29.73 L601.31 28.06 L603.82 26.94 L605.5 26.71 L607.31 26.52 L608.97 26.54 L611.12 26.46 L612.87 26.06 L615.4 25.58 L616.7 25.41 L618.43 24.75 L620.21 24.64Z" fill="none" stroke="#a4a4a4" stroke-width="1.25" stroke-linejoin="round"/>
<path d="M621.36 24.41 L623.55 25.69 L624.22 27.81 L624.47 29.78 L624.62 31.42 L624.28 33.82 L623.22 36.17 L621.76 38.85 L620.6 40.76 L621.42 43.15 L620.45 44.52 L619.93 46.23 L618.66 47.06 L617.64 48.42 L616.63 50.07 L615.13 51.25 L614.17 53.24 L612.57 54.72 L611.58 56.68 L609.86 58.75 L608.71 60.4 L607.27 62.36 L605.37 64.27 L603.92 66.15 L602.42 68.12 L600.93 69.94 L599.35 71.19 L597.4 72.24 L595.96 73.52 L594.39 74.4 L592.5 75.61 L591.05 76.3 L589.25 76.7 L588.11 77.37 L585.25 77.75 L582.38 77.95 L580.97 76.14 L580.63 73.61 L580.35 72.39 L580.31 70.35 L580.47 69.01 L580.78 67.29 L580.8 65.29 L580.89 62.94 L581.26 61.22 L581.17 59.11 L581.37 57.26 L581.8 55.24 L582.08 53.03 L582.33 51.54 L582.42 49.41 L582.74 47.89 L583.04 46.27 L583.41 45.18 L584.37 43.86 L585.45 42.45 L586.91 41.5 L587.74 40.58 L589.7 39.01 L591.58 37.55 L592.91 36.71 L594.38 35.71 L595.93 34.47 L597.31 33.84 L598.62 32.57 L599.6 31.04 L600.33 29.73 L601.31 28.06 L603.82 26.94 L605.5 26.71 L607.31 26.52 L608.97 26.54 L611.12 26.46 L612.87 26.06 L615.4 25.58 L616.7 25.41 L618.43 24.75 L620.21 24.64Z" fill="none" stroke="#f6f6f6" stroke-width="1.0625" stroke-dasharray="1.6 1.1 0.9 1.7 2.3 1.3" stroke-opacity="0.85" stroke-linejoin="round"/>
<path d="M653.63 24.79 L653.12 27.66 L652.6 30.09 L652.14 32.9 L652.64 34.46 L652.88 36.15 L653.05 37.3 L653.6 38.85 L654.2 41.49 L654.84 43.13 L655.18 44.48 L655.13 46.15 L655.79 47.84 L655.76 49.81 L656.02 51.82 L656.54 53.87 L656.92 56.17 L657.4 57.73 L658.16 59.23 L658.63 60.91 L659.17 62.33 L659.6 63.96 L660.16 65.89 L660.97 67.58 L661.79 69.93 L662.58 71.88 L663.24 73.62 L664.06 75.22 L664.52 76.95 L665.08 78.41 L665.6 80.38 L667 80.6" fill="none" stroke="#707070" stroke-width="2.09" stroke-opacity="0.45" stroke-linejoin="round"/>
<path d="M653.63 24.79 L653.12 27.66 L652.6 30.09 L652.14 32.9 L652.64 34.46 L652.88 36.15 L653.05 37.3 L653.6 38.85 L654.2 41.49 L654.84 43.13 L655.18 44.48 L655.13 46.15 L655.79 47.84 L655.76 49.81 L656.02 51.82 L656.54 53.87 L656.92 56.17 L657.4 57.73 L658.16 59.23 L658.63 60.91 L659.17 62.33 L659.6 63.96 L660.16 65.89 L660.97 67.58 L661.79 69.93 L662.58 71.88 L663.24 73.62 L664.06 75.22 L664.52 76.95 L665.08 78.41 L665.6 80.38 L667 80.6" fill="none" stroke="#a4a4a4" stroke-width="1.1" stroke-linejoin="round"/>
<path d="M653.63 24.79 L653.12 27.66 L652.6 30.09 L652.14 32.9 L652.64 34.46 L652.88 36.15 L653.05 37.3 L653.6 38.85 L654.2 41.49 L654.84 43.13 L655.18 44.48 L655.13 46.15 L655.79 47.84 L655.76 49.81 L656.02 51.82 L656.54 53.87 L656.92 56.17 L657.4 57.73 L658.16 59.23 L658.63 60.91 L659.17 62.33 L659.6 63.96 L660.16 65.89 L660.97 67.58 L661.79 69.93 L662.58 71.88 L663.24 73.62 L664.06 75.22 L664.52 76.95 L665.08 78.41 L665.6 80.38 L667 80.6" fill="none" stroke="#f6f6f6" stroke-width="0.935" stroke-dasharray="1.6 1.1 0.9 1.7 2.3 1.3" stroke-opacity="0.85" stroke-linejoin="round"/>
<path d="M653.83 24.95 L654.73 27.41 L655.26 29.66 L655.76 31.17 L656.06 33.85 L656.2 36.39 L656.01 38.98 L655.98 40.55 L655.52 41.92 L656.2 44.42 L657.44 46.49 L658.07 48.59 L658.97 50.52 L659.57 52.35 L660.02 54.69 L660.91 56.04 L661.96 57.9 L662.45 59.28 L663.3 60.81 L663.6 62.96 L664.12 64.96 L664.47 66.84 L664.81 69.15 L665.7 70.62 L666.05 72.06 L666.65 73.73 L667.22 75.31 L667.48 77.88 L667 80.6" fill="none" stroke="#707070" stroke-width="2.09" stroke-opacity="0.45" stroke-linejoin="round"/>
<path d="M653.83 24.95 L654.73 27.41 L655.26 29.66 L655.76 31.17 L656.06 33.85 L656.2 36.39 L656.01 38.98 L655.98 40.55 L655.52 41.92 L656.2 44.42 L657.44 46.49 L658.07 48.59 L658.97 50.52 L659.57 52.35 L660.02 54.69 L660.91 56.04 L661.96 57.9 L662.45 59.28 L663.3 60.81 L663.6 62.96 L664.12 64.96 L664.47 66.84 L664.81 69.15 L665.7 70.62 L666.05 72.06 L666.65 73.73 L667.22 75.31 L667.48 77.88 L667 80.6" fill="none" stroke="#a4a4a4" stroke-width="1.1" stroke-linejoin="round"/>
<path d="M653.83 24.95 L654.73 27.41 L655.26 29.66 L655.76 31.17 L656.06 33.85 L656.2 36.39 L656.01 38.98 L655.98 40.55 L655.52 41.92 L656.2 44.42 L657.44 46.49 L658.07 48.59 L658.97 50.52 L659.57 52.35 L660.02 54.69 L660.91 56.04 L661.96 57.9 L662.45 59.28 L663.3 60.81 L663.6 62.96 L664.12 64.96 L664.47 66.84 L664.81 69.15 L665.7 70.62 L666.05 72.06 L666.65 73.73 L667.22 75.31 L667.48 77.88 L667 80.6" fill="none" stroke="#f6f6f6" stroke-width="0.935" stroke-dasharray="1.6 1.1 0.9 1.7 2.3 1.3" stroke-opacity="0.85" stroke-linejoin="round"/>
</g>
<rect x="579.1" y="100.9" width="36.5" height="1.0" fill="#f4f4f4"/>
<text x="597.3" y="96.8" font-size="8.3" fill="#e0e0e0" text-anchor="middle">2 µm</text>
</g>
<g id="plot-d">
<rect x="52.4" y="216.79" width="6.8" height="17.01" fill="#0000ff"/>
<rect x="62.9" y="199.79" width="6.8" height="34.01" fill="#0000ff"/>
<rect x="73.4" y="154.44" width="6.8" height="79.36" fill="#0000ff"/>
<rect x="83.9" y="171.45" width="6.8" height="62.35" fill="#0000ff"/>
<rect x="94.4" y="143.1" width="6.8" height="90.7" fill="#0000ff"/>
<rect x="104.9" y="154.44" width="6.8" height="79.36" fill="#0000ff"/>
<rect x="115.4" y="222.46" width="6.8" height="11.34" fill="#0000ff"/>
<rect x="125.9" y="205.46" width="6.8" height="28.34" fill="#0000ff"/>
<rect x="136.4" y="211.13" width="6.8" height="22.67" fill="#0000ff"/>
<rect x="146.9" y="228.13" width="6.8" height="5.67" fill="#0000ff"/>
<line x1="29.6" y1="233.8" x2="29.6" y2="231.4" stroke="#333" stroke-width="0.85"/>
<text transform="translate(29.6 244.7) scale(0.985 1)" font-size="9.8" text-anchor="middle" fill="#111" stroke="#111" stroke-width="0.15">0</text>
<line x1="69.98" y1="233.8" x2="69.98" y2="231.4" stroke="#333" stroke-width="0.85"/>
<text transform="translate(69.98 244.7) scale(0.985 1)" font-size="9.8" text-anchor="middle" fill="#111" stroke="#111" stroke-width="0.15">5</text>
<line x1="110.35" y1="233.8" x2="110.35" y2="231.4" stroke="#333" stroke-width="0.85"/>
<text transform="translate(110.35 244.7) scale(0.985 1)" font-size="9.8" text-anchor="middle" fill="#111" stroke="#111" stroke-width="0.15">10</text>
<line x1="150.73" y1="233.8" x2="150.73" y2="231.4" stroke="#333" stroke-width="0.85"/>
<text transform="translate(150.73 244.7) scale(0.985 1)" font-size="9.8" text-anchor="middle" fill="#111" stroke="#111" stroke-width="0.15">15</text>
<line x1="49.79" y1="233.8" x2="49.79" y2="232.3" stroke="#333" stroke-width="0.85"/>
<line x1="90.16" y1="233.8" x2="90.16" y2="232.3" stroke="#333" stroke-width="0.85"/>
<line x1="130.54" y1="233.8" x2="130.54" y2="232.3" stroke="#333" stroke-width="0.85"/>
<line x1="29.6" y1="233.8" x2="32" y2="233.8" stroke="#333" stroke-width="0.85"/>
<text transform="translate(26.6 237.25) scale(0.985 1)" font-size="9.8" text-anchor="end" fill="#111" stroke="#111" stroke-width="0.15">0</text>
<line x1="29.6" y1="205.46" x2="32" y2="205.46" stroke="#333" stroke-width="0.85"/>
<text transform="translate(26.6 208.91) scale(0.985 1)" font-size="9.8" text-anchor="end" fill="#111" stroke="#111" stroke-width="0.15">5</text>
<line x1="29.6" y1="177.11" x2="32" y2="177.11" stroke="#333" stroke-width="0.85"/>
<text transform="translate(26.6 180.56) scale(0.985 1)" font-size="9.8" text-anchor="end" fill="#111" stroke="#111" stroke-width="0.15">10</text>
<line x1="29.6" y1="148.77" x2="32" y2="148.77" stroke="#333" stroke-width="0.85"/>
<text transform="translate(26.6 152.22) scale(0.985 1)" font-size="9.8" text-anchor="end" fill="#111" stroke="#111" stroke-width="0.15">15</text>
<line x1="29.6" y1="219.63" x2="31.1" y2="219.63" stroke="#333" stroke-width="0.85"/>
<line x1="29.6" y1="191.29" x2="31.1" y2="191.29" stroke="#333" stroke-width="0.85"/>
<line x1="29.6" y1="162.94" x2="31.1" y2="162.94" stroke="#333" stroke-width="0.85"/>
<line x1="29.6" y1="134.6" x2="31.1" y2="134.6" stroke="#333" stroke-width="0.85"/>
<rect x="29.6" y="134.6" width="129.2" height="99.2" fill="none" stroke="#3c3c3c" stroke-width="1.05"/>
<text transform="translate(94.2 258.6) scale(0.995 1)" font-size="9.7" text-anchor="middle" fill="#111" stroke="#111" stroke-width="0.2">Contour length (µm)</text>
<text transform="translate(8.2 184.2) rotate(-90) scale(0.995 1)" font-size="9.7" text-anchor="middle" fill="#111" stroke="#111" stroke-width="0.2">Occurrence</text>
</g>
<g id="plot-e">
<path d="M226.73 213.96 L230.41 200.07 L232.87 182.22 L236.07 152.46 L238.52 184.2 L241.47 209.99 L245.16 206.02" fill="none" stroke="#ff3030" stroke-width="0.55" stroke-dasharray="0.9 0.9" stroke-opacity="1.0"/>
<path d="M229.19 209.99 L233.36 182.22 L234.84 154.44 L236.8 180.23 L239.26 202.06 L242.7 215.94" fill="none" stroke="#ff3030" stroke-width="0.55" stroke-dasharray="0.9 0.9" stroke-opacity="1.0"/>
<path d="M205.84 168.33 L211.99 182.22 L218.13 196.1 L224.27 204.04 L230.41 194.12 L236.56 208.01 L242.7 209.99 L248.84 213.96 L254.99 215.94 L261.13 217.93 L267.27 209.99 L273.41 213.96 L279.56 208.01 L285.7 215.94 L291.84 209.99 L297.99 213.96 L304.13 217.93 L310.27 215.94 L316.41 211.98 L322.56 223.88" fill="none" stroke="#ff3030" stroke-width="0.55" stroke-dasharray="0.9 0.9" stroke-opacity="1.0"/>
<path d="M205.84 202.06 L211.99 206.02 L218.13 198.09 L224.27 192.14 L230.41 174.28 L236.56 206.02 L242.7 190.15 L248.84 211.98 L254.99 174.28 L261.13 141.35 L267.27 217.93 L273.41 221.9 L279.56 219.91 L285.7 213.96 L291.84 194.12 L297.99 208.01 L304.13 202.06 L310.27 209.99 L316.41 215.94 L322.56 225.86" fill="none" stroke="#ff3030" stroke-width="0.55" stroke-dasharray="0.9 0.9" stroke-opacity="1.0"/>
<path d="M205.84 211.98 L211.99 208.01 L218.13 213.96 L224.27 190.15 L230.41 202.06 L236.56 186.18 L242.7 192.14 L248.84 186.18 L254.99 190.15 L261.13 194.12 L267.27 188.17 L273.41 186.18 L279.56 208.01 L285.7 184.2 L291.84 209.99 L297.99 192.14 L304.13 200.07 L310.27 180.23 L316.41 204.04 L322.56 215.94" fill="none" stroke="#ff3030" stroke-width="0.55" stroke-dasharray="0.9 0.9" stroke-opacity="1.0"/>
<path d="M205.84 217.93 L211.99 213.96 L218.13 209.99 L224.27 215.94 L230.41 190.15 L236.56 196.1 L242.7 186.18 L248.84 194.12 L254.99 202.06 L261.13 184.2 L267.27 188.17 L273.41 213.96 L279.56 190.15 L285.7 206.02 L291.84 186.18 L297.99 213.96 L304.13 194.12 L310.27 213.96 L316.41 194.12 L322.56 227.85" fill="none" stroke="#ff3030" stroke-width="0.55" stroke-dasharray="0.9 0.9" stroke-opacity="1.0"/>
<path d="M205.84 194.12 L211.99 200.07 L218.13 208.01 L224.27 211.98 L230.41 217.93 L236.56 208.01 L242.7 213.96 L248.84 202.06 L254.99 192.14 L261.13 229.83 L267.27 196.1 L273.41 233.8 L279.56 200.07 L285.7 194.12 L291.84 215.94 L297.99 190.15 L304.13 219.91 L310.27 190.15 L316.41 198.09 L322.56 209.99" fill="none" stroke="#ff3030" stroke-width="0.55" stroke-dasharray="0.9 0.9" stroke-opacity="1.0"/>
<path d="M205.84 223.88 L211.99 215.94 L218.13 219.91 L224.27 209.99 L230.41 223.88 L236.56 217.93 L242.7 219.91 L248.84 215.94 L254.99 219.91 L261.13 221.9 L267.27 215.94 L273.41 213.96 L279.56 217.93 L285.7 219.91 L291.84 227.85 L297.99 229.83 L304.13 225.86 L310.27 221.9 L316.41 219.91 L322.56 229.83" fill="none" stroke="#ff3030" stroke-width="0.55" stroke-dasharray="0.9 0.9" stroke-opacity="1.0"/>
<path d="M205.84 206.02 L211.99 190.15 L218.13 186.18 L224.27 200.07 L230.41 188.17 L236.56 215.94 L242.7 204.04 L248.84 219.91 L254.99 223.88 L261.13 209.99 L267.27 206.02 L273.41 196.1 L279.56 190.15 L285.7 204.04 L291.84 200.07 L297.99 219.91 L304.13 208.01 L310.27 184.2 L316.41 186.18 L322.56 213.96" fill="none" stroke="#ff3030" stroke-width="0.55" stroke-dasharray="0.9 0.9" stroke-opacity="1.0"/>
<path d="M205.84 227.85 L211.99 219.91 L218.13 204.04 L224.27 221.9 L230.41 211.98 L236.56 190.15 L242.7 223.88 L248.84 209.99 L254.99 206.02 L261.13 225.86 L267.27 223.88 L273.41 208.01 L279.56 223.88 L285.7 221.9 L291.84 208.01 L297.99 204.04 L304.13 196.1 L310.27 202.06 L316.41 221.9 L322.56 219.91" fill="none" stroke="#ff3030" stroke-width="0.55" stroke-dasharray="0.9 0.9" stroke-opacity="1.0"/>
<path d="M205.84 213.96 L211.99 209.99 L218.13 206.02 L224.27 198.09 L230.41 209.99 L236.56 196.1 L242.7 204.04 L248.84 209.99 L254.99 200.07 L261.13 194.12 L267.27 194.12 L273.41 209.99 L279.56 213.96 L285.7 206.02 L291.84 209.99 L297.99 211.98 L304.13 158.41 L310.27 154.44 L316.41 190.15 L322.56 213.96" fill="none" stroke="#30e030" stroke-width="0.55" stroke-dasharray="0.9 0.9" stroke-opacity="1.0"/>
<path d="M205.84 206.02 L211.99 211.98 L218.13 215.94 L224.27 206.02 L230.41 194.12 L236.56 202.06 L242.7 215.94 L248.84 217.93 L254.99 211.98 L261.13 215.94 L267.27 219.91 L273.41 211.98 L279.56 190.15 L285.7 184.2 L291.84 186.18 L297.99 208.01 L304.13 192.14 L310.27 209.99 L316.41 190.15 L322.56 206.02" fill="none" stroke="#30e030" stroke-width="0.55" stroke-dasharray="0.9 0.9" stroke-opacity="1.0"/>
<path d="M205.84 229.83 L211.99 217.93 L218.13 213.96 L224.27 219.91 L230.41 215.94 L236.56 221.9 L242.7 217.93 L248.84 213.96 L254.99 217.93 L261.13 219.91 L267.27 221.9 L273.41 217.93 L279.56 184.2 L285.7 200.07 L291.84 215.94 L297.99 219.91 L304.13 221.9 L310.27 217.93 L316.41 223.88 L322.56 229.83" fill="none" stroke="#3030ff" stroke-width="0.55" stroke-dasharray="0.9 0.9" stroke-opacity="1.0"/>
<path d="M205.84 209.99 L211.99 215.94 L218.13 211.98 L224.27 213.96 L230.41 219.91 L236.56 213.96 L242.7 209.99 L248.84 215.94 L254.99 213.96 L261.13 209.99 L267.27 217.93 L273.41 219.91 L279.56 215.94 L285.7 209.99 L291.84 217.93 L297.99 213.96 L304.13 208.01 L310.27 215.94 L316.41 213.96 L322.56 221.9" fill="none" stroke="#3030ff" stroke-width="0.55" stroke-dasharray="0.9 0.9" stroke-opacity="1.0"/>
<path d="M205.84 202.06 L211.99 209.99 L218.13 219.91 L224.27 217.93 L230.41 213.96 L236.56 219.91 L242.7 215.94 L248.84 217.93 L254.99 211.98 L261.13 223.88 L267.27 217.93 L273.41 215.94 L279.56 219.91 L285.7 221.9 L291.84 217.93 L297.99 225.86 L304.13 223.88 L310.27 227.85 L316.41 221.9 L322.56 217.93" fill="none" stroke="#404040" stroke-width="0.55" stroke-dasharray="0.9 0.9" stroke-opacity="1.0"/>
<path d="M205.84 215.94 L211.99 219.91 L218.13 217.93 L224.27 221.9 L230.41 215.94 L236.56 211.98 L242.7 217.93 L248.84 219.91 L254.99 215.94 L261.13 217.93 L267.27 213.96 L273.41 215.94 L279.56 188.17 L285.7 209.99 L291.84 217.93 L297.99 219.91 L304.13 215.94 L310.27 217.93 L316.41 219.91 L322.56 223.88" fill="none" stroke="#e040e0" stroke-width="0.55" stroke-dasharray="0.9 0.9" stroke-opacity="1.0"/>
<path d="M205.84 214.75 L211.99 213.36 L218.13 215.15 L224.27 215.15 L230.41 209.99 L236.56 214.75 L242.7 213.96 L248.84 213.36 L254.99 208.01 L261.13 214.16 L267.27 214.75 L273.41 216.74 L279.56 208.6 L285.7 208.21 L291.84 213.96 L297.99 211.38 L304.13 202.65 L310.27 209.2 L316.41 207.61 L322.56 220.11" fill="none" stroke="#ff0000" stroke-width="1.15" stroke-linejoin="round"/>
<path d="M205.84 219.12 V210.39 M204.24 219.12 H207.44 M204.24 210.39 H207.44" stroke="#ff4848" stroke-width="0.95" fill="none"/>
<path d="M211.99 215.35 V211.38 M210.39 215.35 H213.59 M210.39 211.38 H213.59" stroke="#ff4848" stroke-width="0.95" fill="none"/>
<path d="M218.13 217.13 V213.17 M216.53 217.13 H219.73 M216.53 213.17 H219.73" stroke="#ff4848" stroke-width="0.95" fill="none"/>
<path d="M224.27 218.72 V211.58 M222.67 218.72 H225.87 M222.67 211.58 H225.87" stroke="#ff4848" stroke-width="0.95" fill="none"/>
<path d="M230.41 213.96 V206.02 M228.81 213.96 H232.01 M228.81 206.02 H232.01" stroke="#ff4848" stroke-width="0.95" fill="none"/>
<path d="M236.56 217.13 V212.37 M234.96 217.13 H238.16 M234.96 212.37 H238.16" stroke="#ff4848" stroke-width="0.95" fill="none"/>
<path d="M242.7 216.94 V210.98 M241.1 216.94 H244.3 M241.1 210.98 H244.3" stroke="#ff4848" stroke-width="0.95" fill="none"/>
<path d="M248.84 216.34 V210.39 M247.24 216.34 H250.44 M247.24 210.39 H250.44" stroke="#ff4848" stroke-width="0.95" fill="none"/>
<path d="M254.99 212.37 V203.64 M253.39 212.37 H256.59 M253.39 203.64 H256.59" stroke="#ff4848" stroke-width="0.95" fill="none"/>
<path d="M261.13 219.12 V209.2 M259.53 219.12 H262.73 M259.53 209.2 H262.73" stroke="#ff4848" stroke-width="0.95" fill="none"/>
<path d="M267.27 217.73 V211.78 M265.67 217.73 H268.87 M265.67 211.78 H268.87" stroke="#ff4848" stroke-width="0.95" fill="none"/>
<path d="M273.41 219.71 V213.76 M271.81 219.71 H275.01 M271.81 213.76 H275.01" stroke="#ff4848" stroke-width="0.95" fill="none"/>
<path d="M279.56 214.56 V202.65 M277.96 214.56 H281.16 M277.96 202.65 H281.16" stroke="#ff4848" stroke-width="0.95" fill="none"/>
<path d="M285.7 213.76 V202.65 M284.1 213.76 H287.3 M284.1 202.65 H287.3" stroke="#ff4848" stroke-width="0.95" fill="none"/>
<path d="M291.84 217.93 V209.99 M290.24 217.93 H293.44 M290.24 209.99 H293.44" stroke="#ff4848" stroke-width="0.95" fill="none"/>
<path d="M297.99 217.33 V205.43 M296.39 217.33 H299.59 M296.39 205.43 H299.59" stroke="#ff4848" stroke-width="0.95" fill="none"/>
<path d="M304.13 213.56 V191.74 M302.53 213.56 H305.73 M302.53 191.74 H305.73" stroke="#ff4848" stroke-width="0.95" fill="none"/>
<path d="M310.27 220.11 V198.29 M308.67 220.11 H311.87 M308.67 198.29 H311.87" stroke="#ff4848" stroke-width="0.95" fill="none"/>
<path d="M316.41 215.15 V200.07 M314.81 215.15 H318.01 M314.81 200.07 H318.01" stroke="#ff4848" stroke-width="0.95" fill="none"/>
<path d="M322.56 222.49 V217.73 M320.96 222.49 H324.16 M320.96 217.73 H324.16" stroke="#ff4848" stroke-width="0.95" fill="none"/>
<path d="M205.84 186.58 L211.99 188.56 L218.13 194.52 L224.27 197.1 L230.41 202.45 L236.56 207.02 L242.7 209 L248.84 209.79 L254.99 214.36 L261.13 216.34 L267.27 217.33 L273.41 218.92 L279.56 218.92 L285.7 214.36 L291.84 209 L297.99 211.38 L304.13 204.44 L310.27 204.04 L316.41 201.46 L322.56 192.14" fill="none" stroke="#2020ff" stroke-width="1.3" stroke-linejoin="round"/>
<circle cx="205.84" cy="214.75" r="2.25" fill="#ff0000"/>
<circle cx="211.99" cy="213.36" r="2.25" fill="#ff0000"/>
<circle cx="218.13" cy="215.15" r="2.25" fill="#ff0000"/>
<circle cx="224.27" cy="215.15" r="2.25" fill="#ff0000"/>
<circle cx="230.41" cy="209.99" r="2.25" fill="#ff0000"/>
<circle cx="236.56" cy="214.75" r="2.25" fill="#ff0000"/>
<circle cx="242.7" cy="213.96" r="2.25" fill="#ff0000"/>
<circle cx="248.84" cy="213.36" r="2.25" fill="#ff0000"/>
<circle cx="254.99" cy="208.01" r="2.25" fill="#ff0000"/>
<circle cx="261.13" cy="214.16" r="2.25" fill="#ff0000"/>
<circle cx="267.27" cy="214.75" r="2.25" fill="#ff0000"/>
<circle cx="273.41" cy="216.74" r="2.25" fill="#ff0000"/>
<circle cx="279.56" cy="208.6" r="2.25" fill="#ff0000"/>
<circle cx="285.7" cy="208.21" r="2.25" fill="#ff0000"/>
<circle cx="291.84" cy="213.96" r="2.25" fill="#ff0000"/>
<circle cx="297.99" cy="211.38" r="2.25" fill="#ff0000"/>
<circle cx="304.13" cy="202.65" r="2.25" fill="#ff0000"/>
<circle cx="310.27" cy="209.2" r="2.25" fill="#ff0000"/>
<circle cx="316.41" cy="207.61" r="2.25" fill="#ff0000"/>
<circle cx="322.56" cy="220.11" r="2.25" fill="#ff0000"/>
<line x1="199.7" y1="233.8" x2="199.7" y2="231.4" stroke="#333" stroke-width="0.85"/>
<text transform="translate(199.7 244.7) scale(0.985 1)" font-size="9.8" text-anchor="middle" fill="#111" stroke="#111" stroke-width="0.15">0</text>
<line x1="224.27" y1="233.8" x2="224.27" y2="231.4" stroke="#333" stroke-width="0.85"/>
<text transform="translate(224.27 244.7) scale(0.985 1)" font-size="9.8" text-anchor="middle" fill="#111" stroke="#111" stroke-width="0.15">20</text>
<line x1="248.84" y1="233.8" x2="248.84" y2="231.4" stroke="#333" stroke-width="0.85"/>
<text transform="translate(248.84 244.7) scale(0.985 1)" font-size="9.8" text-anchor="middle" fill="#111" stroke="#111" stroke-width="0.15">40</text>
<line x1="273.41" y1="233.8" x2="273.41" y2="231.4" stroke="#333" stroke-width="0.85"/>
<text transform="translate(273.41 244.7) scale(0.985 1)" font-size="9.8" text-anchor="middle" fill="#111" stroke="#111" stroke-width="0.15">60</text>
<line x1="297.99" y1="233.8" x2="297.99" y2="231.4" stroke="#333" stroke-width="0.85"/>
<text transform="translate(297.99 244.7) scale(0.985 1)" font-size="9.8" text-anchor="middle" fill="#111" stroke="#111" stroke-width="0.15">80</text>
<line x1="322.56" y1="233.8" x2="322.56" y2="231.4" stroke="#333" stroke-width="0.85"/>
<text transform="translate(322.56 244.7) scale(0.985 1)" font-size="9.8" text-anchor="middle" fill="#111" stroke="#111" stroke-width="0.15">100</text>
<line x1="211.99" y1="233.8" x2="211.99" y2="232.3" stroke="#333" stroke-width="0.85"/>
<line x1="236.56" y1="233.8" x2="236.56" y2="232.3" stroke="#333" stroke-width="0.85"/>
<line x1="261.13" y1="233.8" x2="261.13" y2="232.3" stroke="#333" stroke-width="0.85"/>
<line x1="285.7" y1="233.8" x2="285.7" y2="232.3" stroke="#333" stroke-width="0.85"/>
<line x1="310.27" y1="233.8" x2="310.27" y2="232.3" stroke="#333" stroke-width="0.85"/>
<line x1="199.7" y1="233.8" x2="202.1" y2="233.8" stroke="#333" stroke-width="0.85"/>
<text transform="translate(197 237.25) scale(0.985 1)" font-size="9.8" text-anchor="end" fill="#111" stroke="#111" stroke-width="0.15">0.0</text>
<line x1="199.7" y1="194.12" x2="202.1" y2="194.12" stroke="#333" stroke-width="0.85"/>
<text transform="translate(197 197.57) scale(0.985 1)" font-size="9.8" text-anchor="end" fill="#111" stroke="#111" stroke-width="0.15">0.2</text>
<line x1="199.7" y1="154.44" x2="202.1" y2="154.44" stroke="#333" stroke-width="0.85"/>
<text transform="translate(197 157.89) scale(0.985 1)" font-size="9.8" text-anchor="end" fill="#111" stroke="#111" stroke-width="0.15">0.4</text>
<line x1="199.7" y1="213.96" x2="201.2" y2="213.96" stroke="#333" stroke-width="0.85"/>
<line x1="199.7" y1="174.28" x2="201.2" y2="174.28" stroke="#333" stroke-width="0.85"/>
<rect x="199.7" y="134.6" width="129" height="99.2" fill="none" stroke="#3c3c3c" stroke-width="1.05"/>
<text transform="translate(264.2 258.6) scale(0.995 1)" font-size="9.7" text-anchor="middle" fill="#111" stroke="#111" stroke-width="0.2">Position (%)</text>
<text transform="translate(175.8 184.2) rotate(-90) scale(0.995 1)" font-size="9.7" text-anchor="middle" fill="#111" stroke="#111" stroke-width="0.2">Displacement (µm)</text>
</g>
<g id="plot-f">
<path d="M399.72 182.22 L417.25 145.51 L434.77 155.93 L452.3 140.06 L469.82 177.26 L487.34 162.87 L504.87 168.82" fill="none" stroke="#30e030" stroke-width="0.55" stroke-dasharray="0.9 0.9" stroke-opacity="1.0"/>
<path d="M399.72 181.72 L417.25 174.28 L434.77 165.35 L452.3 156.92 L469.82 160.89 L487.34 161.38 L504.87 163.86" fill="none" stroke="#b0a060" stroke-width="0.55" stroke-dasharray="0.9 0.9" stroke-opacity="1.0"/>
<path d="M399.72 162.87 L417.25 180.23 L434.77 161.88 L452.3 183.21 L469.82 191.64 L487.34 156.92 L504.87 201.56" fill="none" stroke="#ff3030" stroke-width="0.55" stroke-dasharray="0.9 0.9" stroke-opacity="1.0"/>
<path d="M399.72 164.86 L417.25 172.79 L434.77 189.66 L452.3 187.18 L469.82 195.61 L487.34 170.31 L504.87 192.63" fill="none" stroke="#ff3030" stroke-width="0.55" stroke-dasharray="0.9 0.9" stroke-opacity="1.0"/>
<path d="M399.72 186.68 L417.25 183.7 L434.77 163.86 L452.3 190.65 L469.82 183.7 L487.34 158.9 L504.87 185.69" fill="none" stroke="#ff3030" stroke-width="0.55" stroke-dasharray="0.9 0.9" stroke-opacity="1.0"/>
<path d="M399.72 218.92 L417.25 208.01 L434.77 199.08 L452.3 193.62 L469.82 203.54 L487.34 198.58 L504.87 215.94" fill="none" stroke="#ff3030" stroke-width="0.55" stroke-dasharray="0.9 0.9" stroke-opacity="1.0"/>
<path d="M399.72 209.5 L417.25 201.06 L434.77 194.62 L452.3 198.58 L469.82 205.53 L487.34 196.1 L504.87 204.04" fill="none" stroke="#ff3030" stroke-width="0.55" stroke-dasharray="0.9 0.9" stroke-opacity="1.0"/>
<path d="M399.72 203.05 L417.25 204.04 L434.77 203.54 L452.3 203.54 L469.82 202.55 L487.34 196.1 L504.87 199.58" fill="none" stroke="#ff3030" stroke-width="0.55" stroke-dasharray="0.9 0.9" stroke-opacity="1.0"/>
<path d="M399.72 198.58 L417.25 194.62 L434.77 201.56 L452.3 207.02 L469.82 199.58 L487.34 188.66 L504.87 214.46" fill="none" stroke="#ff3030" stroke-width="0.55" stroke-dasharray="0.9 0.9" stroke-opacity="1.0"/>
<path d="M399.72 192.63 L417.25 200.57 L434.77 187.67 L452.3 200.57 L469.82 208.5 L487.34 192.63 L504.87 195.61" fill="none" stroke="#ff3030" stroke-width="0.55" stroke-dasharray="0.9 0.9" stroke-opacity="1.0"/>
<path d="M399.72 185.69 L417.25 168.33 L434.77 169.32 L452.3 207.02 L469.82 167.83 L487.34 166.34 L504.87 206.52" fill="none" stroke="#f0f030" stroke-width="0.55" stroke-dasharray="0.9 0.9" stroke-opacity="1.0"/>
<path d="M399.72 184.7 L417.25 173.78 L434.77 180.23 L452.3 179.24 L469.82 173.29 L487.34 182.71 L504.87 190.65" fill="none" stroke="#30e8e8" stroke-width="0.55" stroke-dasharray="0.9 0.9" stroke-opacity="1.0"/>
<path d="M434.77 185.69 L452.3 197.1 L469.82 181.22 L487.34 179.24 L504.87 178.74" fill="none" stroke="#e040e0" stroke-width="0.55" stroke-dasharray="0.9 0.9" stroke-opacity="1.0"/>
<path d="M399.72 196.1 L417.25 204.04 L434.77 203.05 L452.3 186.68 L469.82 177.26 L487.34 189.66 L504.87 219.91" fill="none" stroke="#404040" stroke-width="0.55" stroke-dasharray="0.9 0.9" stroke-opacity="1.0"/>
<path d="M399.72 165.85 L417.25 168.33 L434.77 189.16 L452.3 189.16 L469.82 186.68 L487.34 166.84 L504.87 158.9" fill="none" stroke="#2020ff" stroke-width="1.3" stroke-linejoin="round"/>
<path d="M399.72 194.12 L417.25 196.6 L434.77 186.18 L452.3 187.42 L469.82 185.69 L487.34 189.66 L504.87 197.59" fill="none" stroke="#ff0000" stroke-width="1.25" stroke-linejoin="round"/>
<path d="M399.72 197.1 V191.14 M398.12 197.1 H401.32 M398.12 191.14 H401.32" stroke="#ff4848" stroke-width="0.95" fill="none"/>
<path d="M417.25 199.58 V193.62 M415.65 199.58 H418.85 M415.65 193.62 H418.85" stroke="#ff4848" stroke-width="0.95" fill="none"/>
<path d="M434.77 189.16 V183.21 M433.17 189.16 H436.37 M433.17 183.21 H436.37" stroke="#ff4848" stroke-width="0.95" fill="none"/>
<path d="M452.3 190.4 V184.45 M450.7 190.4 H453.9 M450.7 184.45 H453.9" stroke="#ff4848" stroke-width="0.95" fill="none"/>
<path d="M469.82 188.66 V182.71 M468.22 188.66 H471.42 M468.22 182.71 H471.42" stroke="#ff4848" stroke-width="0.95" fill="none"/>
<path d="M487.34 192.63 V186.68 M485.74 192.63 H488.94 M485.74 186.68 H488.94" stroke="#ff4848" stroke-width="0.95" fill="none"/>
<path d="M504.87 200.57 V194.62 M503.27 200.57 H506.47 M503.27 194.62 H506.47" stroke="#ff4848" stroke-width="0.95" fill="none"/>
<circle cx="399.72" cy="194.12" r="2.25" fill="#ff0000"/>
<circle cx="417.25" cy="196.6" r="2.25" fill="#ff0000"/>
<circle cx="434.77" cy="186.18" r="2.25" fill="#ff0000"/>
<circle cx="452.3" cy="187.42" r="2.25" fill="#ff0000"/>
<circle cx="469.82" cy="185.69" r="2.25" fill="#ff0000"/>
<circle cx="487.34" cy="189.66" r="2.25" fill="#ff0000"/>
<circle cx="504.87" cy="197.59" r="2.25" fill="#ff0000"/>
<line x1="382.2" y1="233.8" x2="382.2" y2="231.4" stroke="#333" stroke-width="0.85"/>
<text transform="translate(382.2 244.7) scale(0.985 1)" font-size="9.8" text-anchor="middle" fill="#111" stroke="#111" stroke-width="0.15">0</text>
<line x1="406.73" y1="233.8" x2="406.73" y2="231.4" stroke="#333" stroke-width="0.85"/>
<text transform="translate(406.73 244.7) scale(0.985 1)" font-size="9.8" text-anchor="middle" fill="#111" stroke="#111" stroke-width="0.15">20</text>
<line x1="431.27" y1="233.8" x2="431.27" y2="231.4" stroke="#333" stroke-width="0.85"/>
<text transform="translate(431.27 244.7) scale(0.985 1)" font-size="9.8" text-anchor="middle" fill="#111" stroke="#111" stroke-width="0.15">40</text>
<line x1="455.8" y1="233.8" x2="455.8" y2="231.4" stroke="#333" stroke-width="0.85"/>
<text transform="translate(455.8 244.7) scale(0.985 1)" font-size="9.8" text-anchor="middle" fill="#111" stroke="#111" stroke-width="0.15">60</text>
<line x1="480.33" y1="233.8" x2="480.33" y2="231.4" stroke="#333" stroke-width="0.85"/>
<text transform="translate(480.33 244.7) scale(0.985 1)" font-size="9.8" text-anchor="middle" fill="#111" stroke="#111" stroke-width="0.15">80</text>
<line x1="504.87" y1="233.8" x2="504.87" y2="231.4" stroke="#333" stroke-width="0.85"/>
<text transform="translate(504.87 244.7) scale(0.985 1)" font-size="9.8" text-anchor="middle" fill="#111" stroke="#111" stroke-width="0.15">100</text>
<line x1="394.47" y1="233.8" x2="394.47" y2="232.3" stroke="#333" stroke-width="0.85"/>
<line x1="419" y1="233.8" x2="419" y2="232.3" stroke="#333" stroke-width="0.85"/>
<line x1="443.53" y1="233.8" x2="443.53" y2="232.3" stroke="#333" stroke-width="0.85"/>
<line x1="468.07" y1="233.8" x2="468.07" y2="232.3" stroke="#333" stroke-width="0.85"/>
<line x1="492.6" y1="233.8" x2="492.6" y2="232.3" stroke="#333" stroke-width="0.85"/>
<line x1="382.2" y1="221.4" x2="384.6" y2="221.4" stroke="#333" stroke-width="0.85"/>
<text transform="translate(378.4 224.85) scale(0.985 1)" font-size="9.8" text-anchor="end" fill="#111" stroke="#111" stroke-width="0.15">5</text>
<line x1="382.2" y1="196.6" x2="384.6" y2="196.6" stroke="#333" stroke-width="0.85"/>
<text transform="translate(378.4 200.05) scale(0.985 1)" font-size="9.8" text-anchor="end" fill="#111" stroke="#111" stroke-width="0.15">10</text>
<line x1="382.2" y1="171.8" x2="384.6" y2="171.8" stroke="#333" stroke-width="0.85"/>
<text transform="translate(378.4 175.25) scale(0.985 1)" font-size="9.8" text-anchor="end" fill="#111" stroke="#111" stroke-width="0.15">15</text>
<line x1="382.2" y1="147" x2="384.6" y2="147" stroke="#333" stroke-width="0.85"/>
<text transform="translate(378.4 150.45) scale(0.985 1)" font-size="9.8" text-anchor="end" fill="#111" stroke="#111" stroke-width="0.15">20</text>
<line x1="382.2" y1="209" x2="383.7" y2="209" stroke="#333" stroke-width="0.85"/>
<line x1="382.2" y1="184.2" x2="383.7" y2="184.2" stroke="#333" stroke-width="0.85"/>
<line x1="382.2" y1="159.4" x2="383.7" y2="159.4" stroke="#333" stroke-width="0.85"/>
<rect x="382.2" y="134.6" width="128.8" height="99.2" fill="none" stroke="#3c3c3c" stroke-width="1.05"/>
<text transform="translate(446.6 258.6) scale(0.995 1)" font-size="9.7" text-anchor="middle" fill="#111" stroke="#111" stroke-width="0.2">Position (%)</text>
<text transform="translate(349 184.2) rotate(-90) scale(0.995 1)" font-size="9.7" text-anchor="middle" fill="#111" stroke="#111" stroke-width="0.2">Standard deviation of</text>
<text transform="translate(360.2 184.2) rotate(-90) scale(0.995 1)" font-size="9.7" text-anchor="middle" fill="#111" stroke="#111" stroke-width="0.2">the gaussian (nm)</text>
</g>
<g id="plot-g">
<path d="M566.49 142.54 L577.58 190.15 L588.67 153.51 L599.76 194.12 L610.85 204.7 L621.95 221.9" fill="none" stroke="#e040e0" stroke-width="0.55" stroke-dasharray="0.9 0.9" stroke-opacity="1.0"/>
<path d="M566.49 231.15 L577.58 141.61 L588.67 209.99 L599.76 220.57 L610.85 190.15 L621.95 167.67 L633.04 150.21 L644.13 207.35 L655.22 212.64 L666.31 217.93" fill="none" stroke="#30e8e8" stroke-width="0.55" stroke-dasharray="0.9 0.9" stroke-opacity="1.0"/>
<path d="M566.49 223.48 L577.58 222.29 L588.67 212.64 L599.76 221.5 L610.85 214.49 L621.95 221.9 L633.04 207.35 L644.13 146.5 L655.22 209.99 L666.31 203.38" fill="none" stroke="#f0f030" stroke-width="0.55" stroke-dasharray="0.9 0.9" stroke-opacity="1.0"/>
<path d="M566.49 221.9 L577.58 222.43 L588.67 154.44 L599.76 199.41 L610.85 200.73 L621.95 221.9" fill="none" stroke="#404040" stroke-width="0.55" stroke-dasharray="0.9 0.9" stroke-opacity="1.0"/>
<path d="M566.49 208.67 L577.58 222.43 L588.67 221.9 L599.76 213.96 L610.85 220.57 L621.95 212.64 L633.04 221.9 L644.13 225.86" fill="none" stroke="#b0a060" stroke-width="0.55" stroke-dasharray="0.9 0.9" stroke-opacity="1.0"/>
<path d="M566.49 199.41 L577.58 207.35 L588.67 203.38 L599.76 182.22 L610.85 200.73 L621.95 204.7 L633.04 222.16 L644.13 212.64 L655.22 221.9 L666.31 200.73 L677.4 222.56" fill="none" stroke="#30e030" stroke-width="0.55" stroke-dasharray="0.9 0.9" stroke-opacity="1.0"/>
<path d="M566.49 207.35 L577.58 221.9 L588.67 223.22 L599.76 204.7 L610.85 202.06 L621.95 207.35 L633.04 199.41" fill="none" stroke="#e040e0" stroke-width="0.55" stroke-dasharray="0.9 0.9" stroke-opacity="1.0"/>
<path d="M566.49 194.12 L577.58 217.93 L588.67 194.12 L599.76 217.93 L610.85 207.35 L621.95 209.99 L633.04 220.57 L644.13 202.06 L655.22 215.28 L666.31 220.57" fill="none" stroke="#30e8e8" stroke-width="0.55" stroke-dasharray="0.9 0.9" stroke-opacity="1.0"/>
<path d="M566.49 205.1 L577.58 202.45 L588.67 185.52 L599.76 205.1 L610.85 204.44 L621.95 204.44 L633.04 192.14 L644.13 186.18 L655.22 211.45 L666.31 202.06" fill="none" stroke="#ff0000" stroke-width="1.3" stroke-linejoin="round"/>
<path d="M566.49 221.9 V188.83 M564.69 221.9 H568.29 M564.69 188.83 H568.29" stroke="#ff4848" stroke-width="1.0" fill="none"/>
<path d="M577.58 217.4 V186.98 M575.78 217.4 H579.38 M575.78 186.98 H579.38" stroke="#ff4848" stroke-width="1.0" fill="none"/>
<path d="M588.67 197.56 V171.63 M586.87 197.56 H590.47 M586.87 171.63 H590.47" stroke="#ff4848" stroke-width="1.0" fill="none"/>
<path d="M599.76 212.51 V197.56 M597.96 212.51 H601.56 M597.96 197.56 H601.56" stroke="#ff4848" stroke-width="1.0" fill="none"/>
<path d="M610.85 206.82 V202.06 M609.05 206.82 H612.65 M609.05 202.06 H612.65" stroke="#ff4848" stroke-width="1.0" fill="none"/>
<path d="M621.95 216.87 V192.14 M620.15 216.87 H623.75 M620.15 192.14 H623.75" stroke="#ff4848" stroke-width="1.0" fill="none"/>
<path d="M633.04 214.09 V169.92 M631.24 214.09 H634.84 M631.24 169.92 H634.84" stroke="#ff4848" stroke-width="1.0" fill="none"/>
<path d="M644.13 205.49 V165.95 M642.33 205.49 H645.93 M642.33 165.95 H645.93" stroke="#ff4848" stroke-width="1.0" fill="none"/>
<path d="M655.22 218.46 V204.04 M653.42 218.46 H657.02 M653.42 204.04 H657.02" stroke="#ff4848" stroke-width="1.0" fill="none"/>
<path d="M666.31 208.93 V195.57 M664.51 208.93 H668.11 M664.51 195.57 H668.11" stroke="#ff4848" stroke-width="1.0" fill="none"/>
<path d="M562.35 198.88 L573.7 205.49 L577.85 215.41 L585.9 209.46 L592.73 207.48 L607.62 188.17 L615.18 188.56 L622.5 184.6 L631.04 177.45 L639.58 204.7 L646.66 222.43 L655.2 211.45 L662.15 216.47 L669.47 225.07" fill="none" stroke="#2020ff" stroke-width="1.3" stroke-linejoin="round"/>
<circle cx="566.49" cy="205.1" r="2.25" fill="#ff0000"/>
<circle cx="577.58" cy="202.45" r="2.25" fill="#ff0000"/>
<circle cx="588.67" cy="185.52" r="2.25" fill="#ff0000"/>
<circle cx="599.76" cy="205.1" r="2.25" fill="#ff0000"/>
<circle cx="610.85" cy="204.44" r="2.25" fill="#ff0000"/>
<circle cx="621.95" cy="204.44" r="2.25" fill="#ff0000"/>
<circle cx="633.04" cy="192.14" r="2.25" fill="#ff0000"/>
<circle cx="644.13" cy="186.18" r="2.25" fill="#ff0000"/>
<circle cx="655.22" cy="211.45" r="2.25" fill="#ff0000"/>
<circle cx="666.31" cy="202.06" r="2.25" fill="#ff0000"/>
<line x1="555.4" y1="233.8" x2="555.4" y2="231.4" stroke="#333" stroke-width="0.85"/>
<text transform="translate(555.4 244.7) scale(0.985 1)" font-size="9.8" text-anchor="middle" fill="#111" stroke="#111" stroke-width="0.15">0</text>
<line x1="579.8" y1="233.8" x2="579.8" y2="231.4" stroke="#333" stroke-width="0.85"/>
<text transform="translate(579.8 244.7) scale(0.985 1)" font-size="9.8" text-anchor="middle" fill="#111" stroke="#111" stroke-width="0.15">20</text>
<line x1="604.2" y1="233.8" x2="604.2" y2="231.4" stroke="#333" stroke-width="0.85"/>
<text transform="translate(604.2 244.7) scale(0.985 1)" font-size="9.8" text-anchor="middle" fill="#111" stroke="#111" stroke-width="0.15">40</text>
<line x1="628.6" y1="233.8" x2="628.6" y2="231.4" stroke="#333" stroke-width="0.85"/>
<text transform="translate(628.6 244.7) scale(0.985 1)" font-size="9.8" text-anchor="middle" fill="#111" stroke="#111" stroke-width="0.15">60</text>
<line x1="653" y1="233.8" x2="653" y2="231.4" stroke="#333" stroke-width="0.85"/>
<text transform="translate(653 244.7) scale(0.985 1)" font-size="9.8" text-anchor="middle" fill="#111" stroke="#111" stroke-width="0.15">80</text>
<line x1="677.4" y1="233.8" x2="677.4" y2="231.4" stroke="#333" stroke-width="0.85"/>
<text transform="translate(677.4 244.7) scale(0.985 1)" font-size="9.8" text-anchor="middle" fill="#111" stroke="#111" stroke-width="0.15">100</text>
<line x1="567.6" y1="233.8" x2="567.6" y2="232.3" stroke="#333" stroke-width="0.85"/>
<line x1="592" y1="233.8" x2="592" y2="232.3" stroke="#333" stroke-width="0.85"/>
<line x1="616.4" y1="233.8" x2="616.4" y2="232.3" stroke="#333" stroke-width="0.85"/>
<line x1="640.8" y1="233.8" x2="640.8" y2="232.3" stroke="#333" stroke-width="0.85"/>
<line x1="665.2" y1="233.8" x2="665.2" y2="232.3" stroke="#333" stroke-width="0.85"/>
<line x1="555.4" y1="233.8" x2="557.8" y2="233.8" stroke="#333" stroke-width="0.85"/>
<text transform="translate(551.5 237.25) scale(0.985 1)" font-size="9.8" text-anchor="end" fill="#111" stroke="#111" stroke-width="0.15">0.0</text>
<line x1="555.4" y1="207.35" x2="557.8" y2="207.35" stroke="#333" stroke-width="0.85"/>
<text transform="translate(551.5 210.8) scale(0.985 1)" font-size="9.8" text-anchor="end" fill="#111" stroke="#111" stroke-width="0.15">0.2</text>
<line x1="555.4" y1="180.89" x2="557.8" y2="180.89" stroke="#333" stroke-width="0.85"/>
<text transform="translate(551.5 184.34) scale(0.985 1)" font-size="9.8" text-anchor="end" fill="#111" stroke="#111" stroke-width="0.15">0.4</text>
<line x1="555.4" y1="154.44" x2="557.8" y2="154.44" stroke="#333" stroke-width="0.85"/>
<text transform="translate(551.5 157.89) scale(0.985 1)" font-size="9.8" text-anchor="end" fill="#111" stroke="#111" stroke-width="0.15">0.6</text>
<line x1="555.4" y1="220.57" x2="556.9" y2="220.57" stroke="#333" stroke-width="0.85"/>
<line x1="555.4" y1="194.12" x2="556.9" y2="194.12" stroke="#333" stroke-width="0.85"/>
<line x1="555.4" y1="167.67" x2="556.9" y2="167.67" stroke="#333" stroke-width="0.85"/>
<line x1="555.4" y1="141.21" x2="556.9" y2="141.21" stroke="#333" stroke-width="0.85"/>
<rect x="555.4" y="134.6" width="128.1" height="99.2" fill="none" stroke="#3c3c3c" stroke-width="1.05"/>
<text transform="translate(619.45 258.6) scale(0.995 1)" font-size="9.7" text-anchor="middle" fill="#111" stroke="#111" stroke-width="0.2">Position (%)</text>
<text transform="translate(530.5 184.2) rotate(-90) scale(0.995 1)" font-size="9.7" text-anchor="middle" fill="#111" stroke="#111" stroke-width="0.2">Characteristc time (s)</text>
</g>
</svg>
</body></html>
